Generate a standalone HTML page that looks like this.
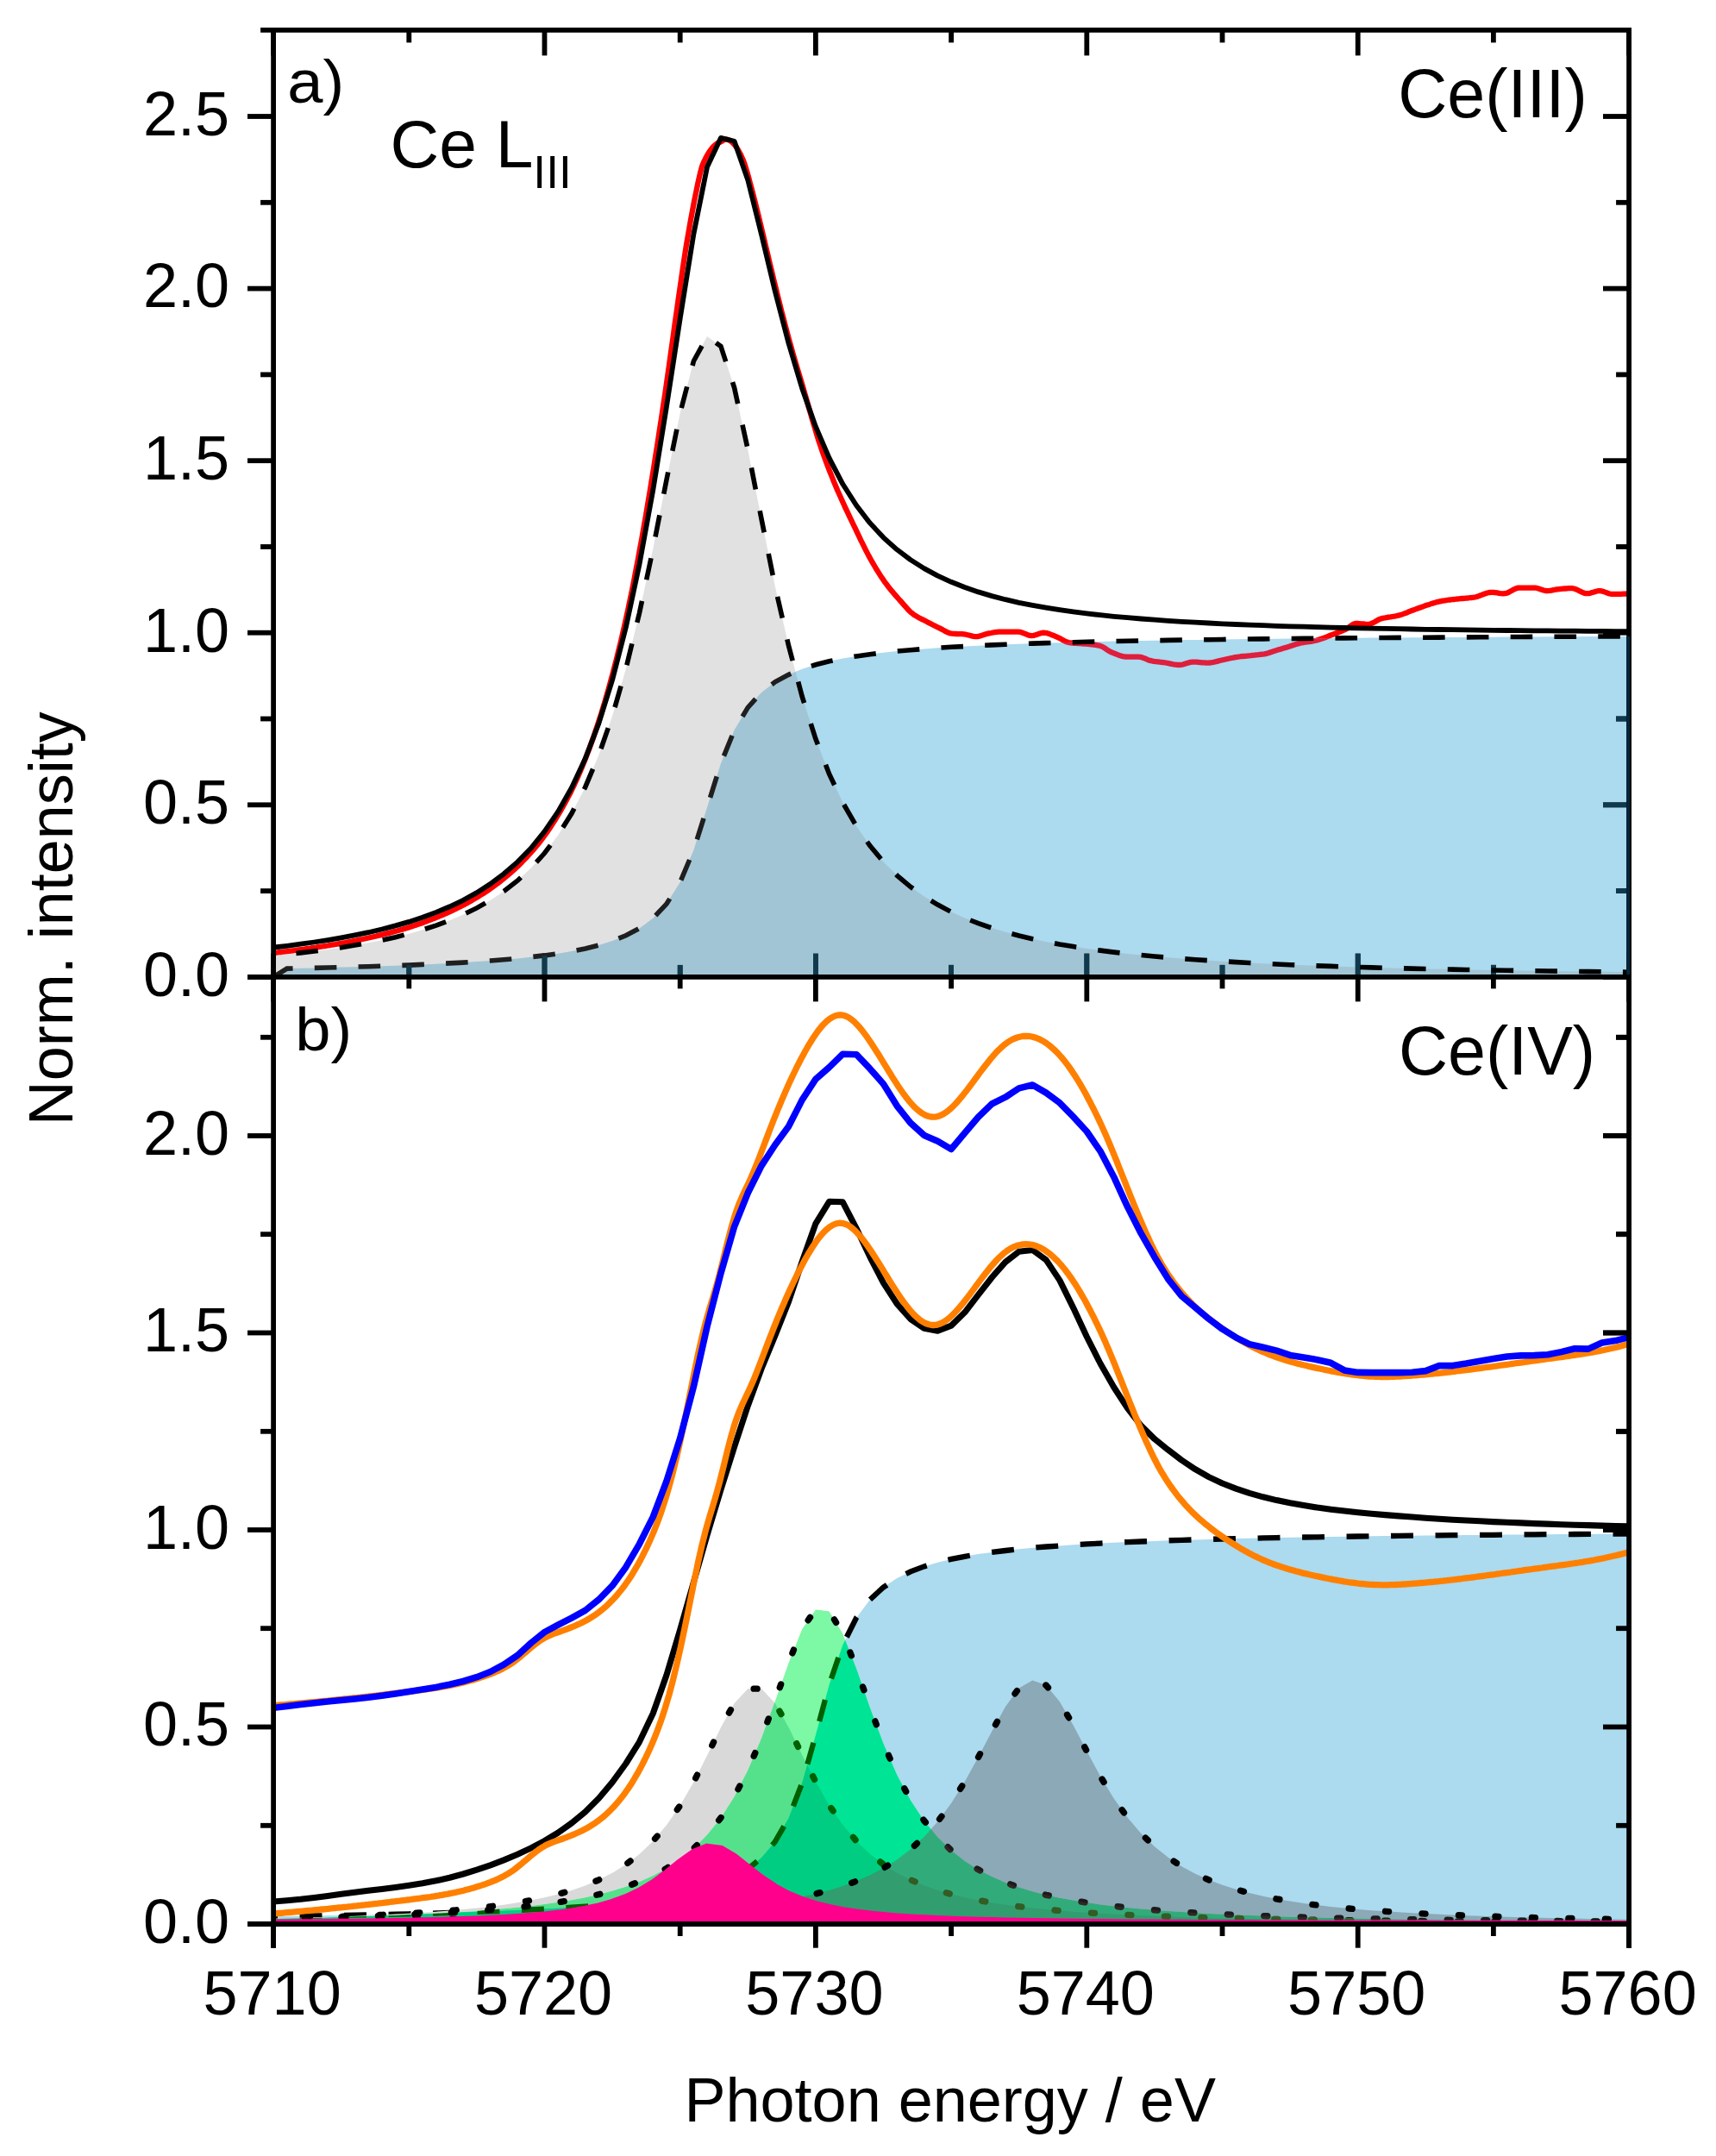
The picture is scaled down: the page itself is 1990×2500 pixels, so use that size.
<!DOCTYPE html>
<html lang="en"><head><meta charset="utf-8"><title>Ce L3 XANES</title>
<style>html,body{margin:0;padding:0;background:#fff}svg{display:block}</style></head>
<body>
<svg width="1990" height="2500" viewBox="0 0 1990 2500" font-family="'Liberation Sans', Arial, sans-serif" fill="#000">
<rect width="1990" height="2500" fill="#fff"/>
<defs>
<clipPath id="ca"><rect x="320.0" y="34.9" width="1570.1" height="1095.1"/></clipPath>
<clipPath id="cb"><rect x="320.0" y="1132.9" width="1570.1" height="1095.2"/></clipPath>
<clipPath id="cAa"><polygon points="317.1,1132.9 317.1,1132.9 332.8,1123.1 348.5,1122.7 364.3,1122.4 380.0,1122.0 395.7,1121.6 411.4,1121.2 427.1,1120.7 442.9,1120.2 458.6,1119.7 474.3,1119.1 490.0,1118.4 505.7,1117.7 521.5,1116.9 537.2,1116.1 552.9,1115.1 568.6,1114.0 584.3,1112.8 600.1,1111.4 615.8,1109.7 631.5,1107.9 647.2,1105.7 662.9,1103.0 678.7,1099.9 694.4,1096.0 710.1,1091.1 725.8,1084.8 741.5,1076.4 757.3,1064.8 773.0,1048.1 788.7,1023.0 804.4,985.7 820.1,936.0 835.9,885.5 851.6,846.6 867.3,820.4 883.0,803.0 898.7,790.9 914.5,782.3 930.2,775.8 945.9,770.8 961.6,766.8 977.3,763.6 993.1,760.9 1008.8,758.7 1024.5,756.8 1040.2,755.1 1055.9,753.7 1071.7,752.4 1087.4,751.3 1103.1,750.3 1118.8,749.5 1134.5,748.7 1150.3,747.9 1166.0,747.3 1181.7,746.7 1197.4,746.1 1213.1,745.6 1228.9,745.2 1244.6,744.7 1260.3,744.3 1276.0,743.9 1291.7,743.6 1307.5,743.3 1323.2,743.0 1338.9,742.7 1354.6,742.4 1370.3,742.1 1386.1,741.9 1401.8,741.7 1417.5,741.5 1433.2,741.2 1448.9,741.0 1464.7,740.9 1480.4,740.7 1496.1,740.5 1511.8,740.4 1527.5,740.2 1543.3,740.1 1559.0,739.9 1574.7,739.8 1590.4,739.6 1606.1,739.5 1621.9,739.4 1637.6,739.3 1653.3,739.2 1669.0,739.1 1684.7,739.0 1700.5,738.9 1716.2,738.8 1731.9,738.7 1747.6,738.6 1763.3,738.5 1779.1,738.4 1794.8,738.3 1810.5,738.3 1826.2,738.2 1841.9,738.1 1857.7,738.0 1873.4,738.0 1889.1,737.9 1889.1,1132.9"/></clipPath>
<clipPath id="cAb"><polygon points="317.1,2231.0 317.1,2222.2 332.8,2222.0 348.5,2221.8 364.3,2221.5 380.0,2221.2 395.7,2221.0 411.4,2220.7 427.1,2220.4 442.9,2220.0 458.6,2219.7 474.3,2219.3 490.0,2218.9 505.7,2218.5 521.5,2218.0 537.2,2217.5 552.9,2217.0 568.6,2216.4 584.3,2215.8 600.1,2215.1 615.8,2214.4 631.5,2213.6 647.2,2212.7 662.9,2211.7 678.7,2210.6 694.4,2209.3 710.1,2207.9 725.8,2206.3 741.5,2204.5 757.3,2202.3 773.0,2199.9 788.7,2196.9 804.4,2193.3 820.1,2189.0 835.9,2183.5 851.6,2176.4 867.3,2167.1 883.0,2154.3 898.7,2135.8 914.5,2108.4 930.2,2067.5 945.9,2012.0 961.6,1953.6 977.3,1907.4 993.1,1875.9 1008.8,1854.9 1024.5,1840.5 1040.2,1830.1 1055.9,1822.4 1071.7,1816.4 1087.4,1811.7 1103.1,1807.9 1118.8,1804.8 1134.5,1802.1 1150.3,1799.9 1166.0,1798.0 1181.7,1796.3 1197.4,1794.8 1213.1,1793.5 1228.9,1792.4 1244.6,1791.3 1260.3,1790.4 1276.0,1789.6 1291.7,1788.8 1307.5,1788.1 1323.2,1787.5 1338.9,1786.9 1354.6,1786.3 1370.3,1785.8 1386.1,1785.4 1401.8,1784.9 1417.5,1784.5 1433.2,1784.1 1448.9,1783.8 1464.7,1783.4 1480.4,1783.1 1496.1,1782.8 1511.8,1782.5 1527.5,1782.3 1543.3,1782.0 1559.0,1781.8 1574.7,1781.5 1590.4,1781.3 1606.1,1781.1 1621.9,1780.9 1637.6,1780.7 1653.3,1780.6 1669.0,1780.4 1684.7,1780.2 1700.5,1780.1 1716.2,1779.9 1731.9,1779.8 1747.6,1779.6 1763.3,1779.5 1779.1,1779.4 1794.8,1779.2 1810.5,1779.1 1826.2,1779.0 1841.9,1778.9 1857.7,1778.8 1873.4,1778.7 1889.1,1778.6 1889.1,2231.0"/></clipPath>
<clipPath id="cG1"><polygon points="317.1,2231.0 317.1,2224.6 332.8,2224.2 348.5,2223.8 364.3,2223.3 380.0,2222.9 395.7,2222.3 411.4,2221.8 427.1,2221.1 442.9,2220.4 458.6,2219.6 474.3,2218.8 490.0,2217.8 505.7,2216.7 521.5,2215.5 537.2,2214.1 552.9,2212.5 568.6,2210.7 584.3,2208.7 600.1,2206.3 615.8,2203.5 631.5,2200.2 647.2,2196.4 662.9,2191.9 678.7,2186.4 694.4,2179.8 710.1,2171.8 725.8,2162.0 741.5,2149.9 757.3,2134.9 773.0,2116.3 788.7,2093.6 804.4,2066.4 820.1,2035.4 835.9,2003.2 851.6,1975.1 867.3,1958.2 883.0,1958.1 898.7,1974.8 914.5,2002.8 930.2,2035.0 945.9,2066.0 961.6,2093.3 977.3,2116.1 993.1,2134.7 1008.8,2149.7 1024.5,2161.9 1040.2,2171.7 1055.9,2179.7 1071.7,2186.3 1087.4,2191.8 1103.1,2196.4 1118.8,2200.2 1134.5,2203.5 1150.3,2206.2 1166.0,2208.6 1181.7,2210.7 1197.4,2212.5 1213.1,2214.1 1228.9,2215.5 1244.6,2216.7 1260.3,2217.8 1276.0,2218.8 1291.7,2219.6 1307.5,2220.4 1323.2,2221.1 1338.9,2221.8 1354.6,2222.3 1370.3,2222.9 1386.1,2223.3 1401.8,2223.8 1417.5,2224.2 1433.2,2224.5 1448.9,2224.9 1464.7,2225.2 1480.4,2225.5 1496.1,2225.8 1511.8,2226.0 1527.5,2226.2 1543.3,2226.5 1559.0,2226.7 1574.7,2226.9 1590.4,2227.0 1606.1,2227.2 1621.9,2227.4 1637.6,2227.5 1653.3,2227.6 1669.0,2227.8 1684.7,2227.9 1700.5,2228.0 1716.2,2228.1 1731.9,2228.2 1747.6,2228.3 1763.3,2228.4 1779.1,2228.5 1794.8,2228.6 1810.5,2228.7 1826.2,2228.7 1841.9,2228.8 1857.7,2228.9 1873.4,2229.0 1889.1,2229.0 1889.1,2231.0"/></clipPath>
<clipPath id="cGr"><polygon points="317.1,2231.0 317.1,2224.9 332.8,2224.5 348.5,2224.2 364.3,2223.9 380.0,2223.5 395.7,2223.0 411.4,2222.6 427.1,2222.1 442.9,2221.5 458.6,2220.9 474.3,2220.3 490.0,2219.6 505.7,2218.8 521.5,2217.9 537.2,2216.9 552.9,2215.9 568.6,2214.6 584.3,2213.3 600.1,2211.8 615.8,2210.0 631.5,2208.1 647.2,2205.8 662.9,2203.2 678.7,2200.2 694.4,2196.7 710.1,2192.6 725.8,2187.7 741.5,2181.9 757.3,2174.9 773.0,2166.5 788.7,2156.2 804.4,2143.4 820.1,2127.6 835.9,2107.9 851.6,2083.2 867.3,2052.6 883.0,2015.5 898.7,1972.7 914.5,1927.9 930.2,1888.8 945.9,1866.2 961.6,1868.2 977.3,1894.0 993.1,1934.6 1008.8,1979.5 1024.5,2021.6 1040.2,2057.7 1055.9,2087.3 1071.7,2111.2 1087.4,2130.3 1103.1,2145.6 1118.8,2157.9 1134.5,2167.9 1150.3,2176.1 1166.0,2182.9 1181.7,2188.5 1197.4,2193.2 1213.1,2197.3 1228.9,2200.7 1244.6,2203.6 1260.3,2206.2 1276.0,2208.4 1291.7,2210.3 1307.5,2212.0 1323.2,2213.5 1338.9,2214.8 1354.6,2216.0 1370.3,2217.1 1386.1,2218.0 1401.8,2218.9 1417.5,2219.7 1433.2,2220.4 1448.9,2221.0 1464.7,2221.6 1480.4,2222.2 1496.1,2222.7 1511.8,2223.1 1527.5,2223.5 1543.3,2223.9 1559.0,2224.3 1574.7,2224.6 1590.4,2224.9 1606.1,2225.2 1621.9,2225.5 1637.6,2225.7 1653.3,2225.9 1669.0,2226.1 1684.7,2226.4 1700.5,2226.5 1716.2,2226.7 1731.9,2226.9 1747.6,2227.1 1763.3,2227.2 1779.1,2227.3 1794.8,2227.5 1810.5,2227.6 1826.2,2227.7 1841.9,2227.8 1857.7,2227.9 1873.4,2228.0 1889.1,2228.1 1889.1,2231.0"/></clipPath>
</defs>
<g clip-path="url(#ca)">
<polyline points="317.1,1105.0 319.3,1104.8 321.6,1104.5 323.8,1104.2 326.1,1104.0 328.3,1103.7 330.6,1103.4 332.8,1103.2 335.1,1102.9 337.3,1102.6 339.6,1102.3 341.8,1102.0 344.1,1101.7 346.3,1101.4 348.6,1101.1 350.8,1100.8 353.1,1100.5 355.3,1100.2 357.6,1099.9 359.8,1099.6 362.1,1099.2 364.3,1098.9 366.6,1098.6 368.8,1098.2 371.1,1097.9 373.3,1097.5 375.6,1097.2 377.8,1096.8 380.1,1096.5 382.3,1096.1 384.6,1095.7 386.8,1095.3 389.1,1095.0 391.3,1094.6 393.6,1094.2 395.8,1093.8 398.1,1093.4 400.3,1093.0 402.6,1092.5 404.8,1092.1 407.1,1091.7 409.3,1091.2 411.6,1090.8 413.8,1090.4 416.1,1089.9 418.3,1089.4 420.6,1089.0 422.8,1088.5 425.0,1088.0 427.3,1087.5 429.5,1087.0 431.8,1086.5 434.0,1086.0 436.3,1085.5 438.5,1084.9 440.8,1084.4 443.0,1083.9 445.3,1083.3 447.5,1082.7 449.8,1082.2 452.0,1081.6 454.3,1081.0 456.5,1080.4 458.8,1079.8 461.0,1079.2 463.3,1078.5 465.5,1077.9 467.8,1077.2 470.0,1076.6 472.3,1075.9 474.5,1075.2 476.8,1074.5 479.0,1073.7 481.3,1073.0 483.5,1072.2 485.8,1071.5 488.0,1070.7 490.3,1069.9 492.5,1069.1 494.8,1068.2 497.0,1067.4 499.3,1066.6 501.5,1065.7 503.8,1064.8 506.0,1063.9 508.3,1063.0 510.5,1062.0 512.8,1061.1 515.0,1060.1 517.3,1059.1 519.5,1058.1 521.8,1057.1 524.0,1056.1 526.3,1055.0 528.5,1053.9 530.7,1052.8 533.0,1051.7 535.2,1050.5 537.5,1049.4 539.7,1048.2 542.0,1046.9 544.2,1045.7 546.5,1044.4 548.7,1043.1 551.0,1041.8 553.2,1040.5 555.5,1039.1 557.7,1037.7 560.0,1036.3 562.2,1034.8 564.5,1033.3 566.7,1031.8 569.0,1030.2 571.2,1028.6 573.5,1027.0 575.7,1025.3 578.0,1023.6 580.2,1021.9 582.5,1020.1 584.7,1018.3 587.0,1016.4 589.2,1014.5 591.5,1012.6 593.7,1010.6 596.0,1008.6 598.2,1006.5 600.5,1004.4 602.7,1002.2 605.0,999.9 607.2,997.6 609.5,995.3 611.7,992.9 614.0,990.4 616.2,987.9 618.5,985.3 620.7,982.7 623.0,980.0 625.2,977.2 627.5,974.3 629.7,971.4 631.9,968.4 634.2,965.2 636.4,961.9 638.7,958.5 640.9,955.1 643.2,951.6 645.4,947.9 647.7,944.2 649.9,940.4 652.2,936.5 654.4,932.5 656.7,928.3 658.9,924.1 661.2,919.8 663.4,915.2 665.7,910.5 667.9,905.6 670.2,900.6 672.4,895.4 674.7,890.1 676.9,884.6 679.2,879.0 681.4,873.2 683.7,867.3 685.9,861.1 688.2,854.8 690.4,848.3 692.7,841.6 694.9,834.7 697.2,827.7 699.4,820.4 701.7,812.8 703.9,805.1 706.2,797.2 708.4,789.0 710.7,780.6 712.9,772.0 715.2,763.3 717.4,754.2 719.7,744.9 721.9,735.4 724.2,725.5 726.4,715.4 728.7,705.0 730.9,694.3 733.2,683.3 735.4,672.0 737.6,660.4 739.9,648.6 742.1,636.4 744.4,624.0 746.6,611.3 748.9,598.3 751.1,585.1 753.4,571.5 755.6,557.8 757.9,543.8 760.1,529.6 762.4,515.2 764.6,500.5 766.9,485.7 769.1,470.8 771.4,455.8 773.6,440.3 775.9,424.2 778.1,408.1 780.4,391.9 782.6,375.8 784.9,359.8 787.1,343.9 789.4,328.1 791.6,312.6 793.9,297.3 796.1,283.2 798.4,270.0 800.6,257.2 802.9,244.9 805.1,233.0 807.4,221.8 809.6,211.1 811.9,201.1 814.1,192.8 816.4,187.3 818.6,182.8 820.9,178.7 823.1,175.2 825.4,172.2 827.6,169.7 829.9,167.7 832.1,165.9 834.4,165.1 836.6,164.0 838.9,162.5 841.1,161.7 843.3,161.7 845.6,162.5 847.8,163.8 850.1,165.9 852.3,168.5 854.6,171.7 856.8,175.4 859.1,179.6 861.3,184.5 863.6,190.5 865.8,197.7 868.1,205.5 870.3,213.7 872.6,222.2 874.8,231.0 877.1,240.0 879.3,249.1 881.6,258.4 883.8,267.8 886.1,277.3 888.3,286.7 890.6,296.2 892.8,305.7 895.1,315.1 897.3,324.4 899.6,333.6 901.8,342.8 904.1,351.8 906.3,360.7 908.6,369.4 910.8,378.0 913.1,386.5 915.3,394.7 917.6,402.8 919.8,410.8 922.1,418.6 924.3,426.2 926.6,433.6 928.8,441.0 931.1,448.7 933.3,456.4 935.6,464.2 937.8,472.1 940.1,479.9 942.3,487.6 944.6,495.1 946.8,502.5 949.0,509.7 951.3,516.5 953.5,523.1 955.8,529.4 958.0,535.5 960.3,541.5 962.5,547.3 964.8,552.9 967.0,558.5 969.3,563.9 971.5,569.2 973.8,574.3 976.0,579.3 978.3,584.3 980.5,589.1 982.8,593.9 985.0,598.6 987.3,603.3 989.5,608.0 991.8,612.7 994.0,617.4 996.3,622.1 998.5,626.8 1000.8,631.4 1003.0,635.9 1005.3,640.4 1007.5,644.6 1009.8,648.7 1012.0,652.6 1014.3,656.5 1016.5,660.3 1018.8,663.9 1021.0,667.4 1023.3,670.8 1025.5,674.1 1027.8,677.2 1030.0,680.1 1032.3,683.0 1034.5,685.7 1036.8,688.3 1039.0,690.9 1041.3,693.5 1043.5,696.0 1045.8,698.5 1048.0,701.1 1050.3,703.7 1052.5,706.2 1054.7,708.5 1057.0,710.6 1059.2,712.3 1061.5,713.8 1063.7,715.1 1066.0,716.4 1068.2,717.6 1070.5,718.7 1072.7,719.8 1075.0,721.0 1077.2,722.2 1079.5,723.3 1081.7,724.5 1084.0,725.6 1086.2,726.7 1088.5,727.8 1090.7,728.9 1093.0,730.1 1095.2,731.4 1097.5,732.6 1099.7,733.6 1102.0,734.4 1104.2,734.7 1106.5,734.9 1108.7,735.0 1111.0,735.1 1113.2,735.1 1115.5,735.2 1117.7,735.4 1120.0,735.7 1122.2,736.2 1124.5,736.8 1126.7,737.4 1129.0,737.9 1131.2,738.2 1133.5,738.1 1135.7,737.7 1138.0,737.0 1140.2,736.3 1142.5,735.5 1144.7,734.9 1147.0,734.4 1149.2,734.0 1151.5,733.5 1153.7,733.1 1155.9,732.8 1158.2,732.6 1160.4,732.6 1162.7,732.6 1164.9,732.6 1167.2,732.6 1169.4,732.6 1171.7,732.6 1173.9,732.6 1176.2,732.6 1178.4,732.6 1180.7,732.6 1182.9,732.8 1185.2,733.5 1187.4,734.4 1189.7,735.3 1191.9,736.2 1194.2,736.9 1196.4,737.1 1198.7,736.9 1200.9,736.3 1203.2,735.5 1205.4,734.7 1207.7,734.0 1209.9,733.6 1212.2,733.8 1214.4,734.2 1216.7,734.9 1218.9,735.8 1221.2,736.7 1223.4,737.7 1225.7,738.7 1227.9,739.6 1230.2,740.8 1232.4,742.1 1234.7,743.3 1236.9,744.3 1239.2,745.0 1241.4,745.3 1243.7,745.6 1245.9,745.8 1248.2,745.9 1250.4,746.1 1252.7,746.2 1254.9,746.3 1257.2,746.5 1259.4,746.7 1261.6,746.9 1263.9,747.1 1266.1,747.4 1268.4,747.6 1270.6,747.9 1272.9,748.3 1275.1,748.7 1277.4,749.4 1279.6,750.6 1281.9,752.0 1284.1,753.6 1286.4,755.0 1288.6,756.2 1290.9,757.1 1293.1,758.0 1295.4,758.9 1297.6,759.8 1299.9,760.5 1302.1,761.1 1304.4,761.5 1306.6,761.6 1308.9,761.6 1311.1,761.6 1313.4,761.6 1315.6,761.6 1317.9,761.6 1320.1,761.6 1322.4,761.8 1324.6,762.4 1326.9,763.2 1329.1,764.2 1331.4,765.2 1333.6,765.9 1335.9,766.4 1338.1,766.8 1340.4,767.1 1342.6,767.4 1344.9,767.7 1347.1,768.0 1349.4,768.2 1351.6,768.5 1353.9,768.9 1356.1,769.3 1358.4,769.8 1360.6,770.3 1362.9,770.6 1365.1,770.9 1367.3,771.0 1369.6,770.9 1371.8,770.5 1374.1,769.8 1376.3,769.1 1378.6,768.4 1380.8,767.8 1383.1,767.6 1385.3,767.6 1387.6,767.7 1389.8,767.9 1392.1,768.1 1394.3,768.3 1396.6,768.4 1398.8,768.6 1401.1,768.6 1403.3,768.5 1405.6,768.2 1407.8,767.7 1410.1,767.2 1412.3,766.6 1414.6,766.0 1416.8,765.5 1419.1,765.0 1421.3,764.5 1423.6,764.0 1425.8,763.5 1428.1,763.0 1430.3,762.6 1432.6,762.1 1434.8,761.8 1437.1,761.5 1439.3,761.2 1441.6,761.0 1443.8,760.8 1446.1,760.6 1448.3,760.4 1450.6,760.2 1452.8,759.9 1455.1,759.7 1457.3,759.4 1459.6,759.2 1461.8,758.9 1464.1,758.6 1466.3,758.3 1468.6,757.9 1470.8,757.3 1473.0,756.5 1475.3,755.7 1477.5,754.9 1479.8,754.2 1482.0,753.5 1484.3,752.9 1486.5,752.2 1488.8,751.5 1491.0,750.9 1493.3,750.2 1495.5,749.5 1497.8,748.8 1500.0,748.0 1502.3,747.3 1504.5,746.6 1506.8,746.0 1509.0,745.5 1511.3,745.1 1513.5,744.7 1515.8,744.4 1518.0,744.1 1520.3,743.8 1522.5,743.4 1524.8,743.0 1527.0,742.5 1529.3,741.8 1531.5,741.1 1533.8,740.3 1536.0,739.5 1538.3,738.6 1540.5,737.7 1542.8,736.8 1545.0,735.9 1547.3,735.1 1549.5,734.2 1551.8,733.4 1554.0,732.5 1556.3,731.6 1558.5,730.7 1560.8,729.6 1563.0,728.3 1565.3,726.6 1567.5,724.9 1569.8,723.6 1572.0,723.0 1574.3,723.0 1576.5,723.1 1578.7,723.3 1581.0,723.5 1583.2,723.7 1585.5,723.8 1587.7,723.8 1590.0,723.2 1592.2,722.2 1594.5,721.0 1596.7,719.6 1599.0,718.4 1601.2,717.5 1603.5,716.9 1605.7,716.5 1608.0,716.1 1610.2,715.7 1612.5,715.4 1614.7,715.0 1617.0,714.7 1619.2,714.2 1621.5,713.7 1623.7,713.1 1626.0,712.4 1628.2,711.6 1630.5,710.8 1632.7,709.8 1635.0,708.9 1637.2,708.0 1639.5,707.2 1641.7,706.4 1644.0,705.5 1646.2,704.7 1648.5,703.9 1650.7,703.1 1653.0,702.3 1655.2,701.6 1657.5,700.9 1659.7,700.1 1662.0,699.4 1664.2,698.8 1666.5,698.1 1668.7,697.6 1671.0,697.1 1673.2,696.7 1675.5,696.4 1677.7,696.0 1679.9,695.7 1682.2,695.5 1684.4,695.2 1686.7,695.0 1688.9,694.7 1691.2,694.5 1693.4,694.2 1695.7,694.0 1697.9,693.9 1700.2,693.7 1702.4,693.5 1704.7,693.2 1706.9,693.0 1709.2,692.7 1711.4,692.2 1713.7,691.6 1715.9,690.8 1718.2,689.9 1720.4,689.0 1722.7,688.2 1724.9,687.5 1727.2,687.0 1729.4,686.8 1731.7,686.9 1733.9,687.1 1736.2,687.4 1738.4,687.8 1740.7,688.1 1742.9,688.3 1745.2,688.2 1747.4,687.7 1749.7,686.8 1751.9,685.6 1754.2,684.3 1756.4,683.1 1758.7,682.1 1760.9,681.6 1763.2,681.6 1765.4,681.6 1767.7,681.6 1769.9,681.6 1772.2,681.6 1774.4,681.6 1776.7,681.6 1778.9,681.6 1781.2,681.7 1783.4,682.3 1785.6,683.0 1787.9,683.8 1790.1,684.5 1792.4,685.0 1794.6,685.1 1796.9,684.9 1799.1,684.6 1801.4,684.2 1803.6,683.7 1805.9,683.3 1808.1,683.1 1810.4,682.9 1812.6,682.7 1814.9,682.5 1817.1,682.4 1819.4,682.2 1821.6,682.2 1823.9,682.2 1826.1,682.7 1828.4,683.6 1830.6,684.7 1832.9,685.8 1835.1,686.9 1837.4,687.8 1839.6,688.2 1841.9,688.2 1844.1,687.8 1846.4,687.1 1848.6,686.4 1850.9,685.7 1853.1,685.2 1855.4,685.1 1857.6,685.4 1859.9,686.1 1862.1,686.9 1864.4,687.8 1866.6,688.5 1868.9,688.8 1871.1,688.9 1873.4,688.9 1875.6,688.9 1877.9,688.8 1880.1,688.8 1882.4,688.7 1884.6,688.6 1886.9,688.5 1889.1,688.4" fill="none" stroke="#ff0000" stroke-width="6.3" stroke-linejoin="round"/>
<polygon points="317.1,1135.9 317.1,1132.9 332.8,1123.1 348.5,1122.7 364.3,1122.4 380.0,1122.0 395.7,1121.6 411.4,1121.2 427.1,1120.7 442.9,1120.2 458.6,1119.7 474.3,1119.1 490.0,1118.4 505.7,1117.7 521.5,1116.9 537.2,1116.1 552.9,1115.1 568.6,1114.0 584.3,1112.8 600.1,1111.4 615.8,1109.7 631.5,1107.9 647.2,1105.7 662.9,1103.0 678.7,1099.9 694.4,1096.0 710.1,1091.1 725.8,1084.8 741.5,1076.4 757.3,1064.8 773.0,1048.1 788.7,1023.0 804.4,985.7 820.1,936.0 835.9,885.5 851.6,846.6 867.3,820.4 883.0,803.0 898.7,790.9 914.5,782.3 930.2,775.8 945.9,770.8 961.6,766.8 977.3,763.6 993.1,760.9 1008.8,758.7 1024.5,756.8 1040.2,755.1 1055.9,753.7 1071.7,752.4 1087.4,751.3 1103.1,750.3 1118.8,749.5 1134.5,748.7 1150.3,747.9 1166.0,747.3 1181.7,746.7 1197.4,746.1 1213.1,745.6 1228.9,745.2 1244.6,744.7 1260.3,744.3 1276.0,743.9 1291.7,743.6 1307.5,743.3 1323.2,743.0 1338.9,742.7 1354.6,742.4 1370.3,742.1 1386.1,741.9 1401.8,741.7 1417.5,741.5 1433.2,741.2 1448.9,741.0 1464.7,740.9 1480.4,740.7 1496.1,740.5 1511.8,740.4 1527.5,740.2 1543.3,740.1 1559.0,739.9 1574.7,739.8 1590.4,739.6 1606.1,739.5 1621.9,739.4 1637.6,739.3 1653.3,739.2 1669.0,739.1 1684.7,739.0 1700.5,738.9 1716.2,738.8 1731.9,738.7 1747.6,738.6 1763.3,738.5 1779.1,738.4 1794.8,738.3 1810.5,738.3 1826.2,738.2 1841.9,738.1 1857.7,738.0 1873.4,738.0 1889.1,737.9 1889.1,1135.9" fill="#acdaef"/>
<g clip-path="url(#cAa)"><polyline points="317.1,1105.0 319.3,1104.8 321.6,1104.5 323.8,1104.2 326.1,1104.0 328.3,1103.7 330.6,1103.4 332.8,1103.2 335.1,1102.9 337.3,1102.6 339.6,1102.3 341.8,1102.0 344.1,1101.7 346.3,1101.4 348.6,1101.1 350.8,1100.8 353.1,1100.5 355.3,1100.2 357.6,1099.9 359.8,1099.6 362.1,1099.2 364.3,1098.9 366.6,1098.6 368.8,1098.2 371.1,1097.9 373.3,1097.5 375.6,1097.2 377.8,1096.8 380.1,1096.5 382.3,1096.1 384.6,1095.7 386.8,1095.3 389.1,1095.0 391.3,1094.6 393.6,1094.2 395.8,1093.8 398.1,1093.4 400.3,1093.0 402.6,1092.5 404.8,1092.1 407.1,1091.7 409.3,1091.2 411.6,1090.8 413.8,1090.4 416.1,1089.9 418.3,1089.4 420.6,1089.0 422.8,1088.5 425.0,1088.0 427.3,1087.5 429.5,1087.0 431.8,1086.5 434.0,1086.0 436.3,1085.5 438.5,1084.9 440.8,1084.4 443.0,1083.9 445.3,1083.3 447.5,1082.7 449.8,1082.2 452.0,1081.6 454.3,1081.0 456.5,1080.4 458.8,1079.8 461.0,1079.2 463.3,1078.5 465.5,1077.9 467.8,1077.2 470.0,1076.6 472.3,1075.9 474.5,1075.2 476.8,1074.5 479.0,1073.7 481.3,1073.0 483.5,1072.2 485.8,1071.5 488.0,1070.7 490.3,1069.9 492.5,1069.1 494.8,1068.2 497.0,1067.4 499.3,1066.6 501.5,1065.7 503.8,1064.8 506.0,1063.9 508.3,1063.0 510.5,1062.0 512.8,1061.1 515.0,1060.1 517.3,1059.1 519.5,1058.1 521.8,1057.1 524.0,1056.1 526.3,1055.0 528.5,1053.9 530.7,1052.8 533.0,1051.7 535.2,1050.5 537.5,1049.4 539.7,1048.2 542.0,1046.9 544.2,1045.7 546.5,1044.4 548.7,1043.1 551.0,1041.8 553.2,1040.5 555.5,1039.1 557.7,1037.7 560.0,1036.3 562.2,1034.8 564.5,1033.3 566.7,1031.8 569.0,1030.2 571.2,1028.6 573.5,1027.0 575.7,1025.3 578.0,1023.6 580.2,1021.9 582.5,1020.1 584.7,1018.3 587.0,1016.4 589.2,1014.5 591.5,1012.6 593.7,1010.6 596.0,1008.6 598.2,1006.5 600.5,1004.4 602.7,1002.2 605.0,999.9 607.2,997.6 609.5,995.3 611.7,992.9 614.0,990.4 616.2,987.9 618.5,985.3 620.7,982.7 623.0,980.0 625.2,977.2 627.5,974.3 629.7,971.4 631.9,968.4 634.2,965.2 636.4,961.9 638.7,958.5 640.9,955.1 643.2,951.6 645.4,947.9 647.7,944.2 649.9,940.4 652.2,936.5 654.4,932.5 656.7,928.3 658.9,924.1 661.2,919.8 663.4,915.2 665.7,910.5 667.9,905.6 670.2,900.6 672.4,895.4 674.7,890.1 676.9,884.6 679.2,879.0 681.4,873.2 683.7,867.3 685.9,861.1 688.2,854.8 690.4,848.3 692.7,841.6 694.9,834.7 697.2,827.7 699.4,820.4 701.7,812.8 703.9,805.1 706.2,797.2 708.4,789.0 710.7,780.6 712.9,772.0 715.2,763.3 717.4,754.2 719.7,744.9 721.9,735.4 724.2,725.5 726.4,715.4 728.7,705.0 730.9,694.3 733.2,683.3 735.4,672.0 737.6,660.4 739.9,648.6 742.1,636.4 744.4,624.0 746.6,611.3 748.9,598.3 751.1,585.1 753.4,571.5 755.6,557.8 757.9,543.8 760.1,529.6 762.4,515.2 764.6,500.5 766.9,485.7 769.1,470.8 771.4,455.8 773.6,440.3 775.9,424.2 778.1,408.1 780.4,391.9 782.6,375.8 784.9,359.8 787.1,343.9 789.4,328.1 791.6,312.6 793.9,297.3 796.1,283.2 798.4,270.0 800.6,257.2 802.9,244.9 805.1,233.0 807.4,221.8 809.6,211.1 811.9,201.1 814.1,192.8 816.4,187.3 818.6,182.8 820.9,178.7 823.1,175.2 825.4,172.2 827.6,169.7 829.9,167.7 832.1,165.9 834.4,165.1 836.6,164.0 838.9,162.5 841.1,161.7 843.3,161.7 845.6,162.5 847.8,163.8 850.1,165.9 852.3,168.5 854.6,171.7 856.8,175.4 859.1,179.6 861.3,184.5 863.6,190.5 865.8,197.7 868.1,205.5 870.3,213.7 872.6,222.2 874.8,231.0 877.1,240.0 879.3,249.1 881.6,258.4 883.8,267.8 886.1,277.3 888.3,286.7 890.6,296.2 892.8,305.7 895.1,315.1 897.3,324.4 899.6,333.6 901.8,342.8 904.1,351.8 906.3,360.7 908.6,369.4 910.8,378.0 913.1,386.5 915.3,394.7 917.6,402.8 919.8,410.8 922.1,418.6 924.3,426.2 926.6,433.6 928.8,441.0 931.1,448.7 933.3,456.4 935.6,464.2 937.8,472.1 940.1,479.9 942.3,487.6 944.6,495.1 946.8,502.5 949.0,509.7 951.3,516.5 953.5,523.1 955.8,529.4 958.0,535.5 960.3,541.5 962.5,547.3 964.8,552.9 967.0,558.5 969.3,563.9 971.5,569.2 973.8,574.3 976.0,579.3 978.3,584.3 980.5,589.1 982.8,593.9 985.0,598.6 987.3,603.3 989.5,608.0 991.8,612.7 994.0,617.4 996.3,622.1 998.5,626.8 1000.8,631.4 1003.0,635.9 1005.3,640.4 1007.5,644.6 1009.8,648.7 1012.0,652.6 1014.3,656.5 1016.5,660.3 1018.8,663.9 1021.0,667.4 1023.3,670.8 1025.5,674.1 1027.8,677.2 1030.0,680.1 1032.3,683.0 1034.5,685.7 1036.8,688.3 1039.0,690.9 1041.3,693.5 1043.5,696.0 1045.8,698.5 1048.0,701.1 1050.3,703.7 1052.5,706.2 1054.7,708.5 1057.0,710.6 1059.2,712.3 1061.5,713.8 1063.7,715.1 1066.0,716.4 1068.2,717.6 1070.5,718.7 1072.7,719.8 1075.0,721.0 1077.2,722.2 1079.5,723.3 1081.7,724.5 1084.0,725.6 1086.2,726.7 1088.5,727.8 1090.7,728.9 1093.0,730.1 1095.2,731.4 1097.5,732.6 1099.7,733.6 1102.0,734.4 1104.2,734.7 1106.5,734.9 1108.7,735.0 1111.0,735.1 1113.2,735.1 1115.5,735.2 1117.7,735.4 1120.0,735.7 1122.2,736.2 1124.5,736.8 1126.7,737.4 1129.0,737.9 1131.2,738.2 1133.5,738.1 1135.7,737.7 1138.0,737.0 1140.2,736.3 1142.5,735.5 1144.7,734.9 1147.0,734.4 1149.2,734.0 1151.5,733.5 1153.7,733.1 1155.9,732.8 1158.2,732.6 1160.4,732.6 1162.7,732.6 1164.9,732.6 1167.2,732.6 1169.4,732.6 1171.7,732.6 1173.9,732.6 1176.2,732.6 1178.4,732.6 1180.7,732.6 1182.9,732.8 1185.2,733.5 1187.4,734.4 1189.7,735.3 1191.9,736.2 1194.2,736.9 1196.4,737.1 1198.7,736.9 1200.9,736.3 1203.2,735.5 1205.4,734.7 1207.7,734.0 1209.9,733.6 1212.2,733.8 1214.4,734.2 1216.7,734.9 1218.9,735.8 1221.2,736.7 1223.4,737.7 1225.7,738.7 1227.9,739.6 1230.2,740.8 1232.4,742.1 1234.7,743.3 1236.9,744.3 1239.2,745.0 1241.4,745.3 1243.7,745.6 1245.9,745.8 1248.2,745.9 1250.4,746.1 1252.7,746.2 1254.9,746.3 1257.2,746.5 1259.4,746.7 1261.6,746.9 1263.9,747.1 1266.1,747.4 1268.4,747.6 1270.6,747.9 1272.9,748.3 1275.1,748.7 1277.4,749.4 1279.6,750.6 1281.9,752.0 1284.1,753.6 1286.4,755.0 1288.6,756.2 1290.9,757.1 1293.1,758.0 1295.4,758.9 1297.6,759.8 1299.9,760.5 1302.1,761.1 1304.4,761.5 1306.6,761.6 1308.9,761.6 1311.1,761.6 1313.4,761.6 1315.6,761.6 1317.9,761.6 1320.1,761.6 1322.4,761.8 1324.6,762.4 1326.9,763.2 1329.1,764.2 1331.4,765.2 1333.6,765.9 1335.9,766.4 1338.1,766.8 1340.4,767.1 1342.6,767.4 1344.9,767.7 1347.1,768.0 1349.4,768.2 1351.6,768.5 1353.9,768.9 1356.1,769.3 1358.4,769.8 1360.6,770.3 1362.9,770.6 1365.1,770.9 1367.3,771.0 1369.6,770.9 1371.8,770.5 1374.1,769.8 1376.3,769.1 1378.6,768.4 1380.8,767.8 1383.1,767.6 1385.3,767.6 1387.6,767.7 1389.8,767.9 1392.1,768.1 1394.3,768.3 1396.6,768.4 1398.8,768.6 1401.1,768.6 1403.3,768.5 1405.6,768.2 1407.8,767.7 1410.1,767.2 1412.3,766.6 1414.6,766.0 1416.8,765.5 1419.1,765.0 1421.3,764.5 1423.6,764.0 1425.8,763.5 1428.1,763.0 1430.3,762.6 1432.6,762.1 1434.8,761.8 1437.1,761.5 1439.3,761.2 1441.6,761.0 1443.8,760.8 1446.1,760.6 1448.3,760.4 1450.6,760.2 1452.8,759.9 1455.1,759.7 1457.3,759.4 1459.6,759.2 1461.8,758.9 1464.1,758.6 1466.3,758.3 1468.6,757.9 1470.8,757.3 1473.0,756.5 1475.3,755.7 1477.5,754.9 1479.8,754.2 1482.0,753.5 1484.3,752.9 1486.5,752.2 1488.8,751.5 1491.0,750.9 1493.3,750.2 1495.5,749.5 1497.8,748.8 1500.0,748.0 1502.3,747.3 1504.5,746.6 1506.8,746.0 1509.0,745.5 1511.3,745.1 1513.5,744.7 1515.8,744.4 1518.0,744.1 1520.3,743.8 1522.5,743.4 1524.8,743.0 1527.0,742.5 1529.3,741.8 1531.5,741.1 1533.8,740.3 1536.0,739.5 1538.3,738.6 1540.5,737.7 1542.8,736.8 1545.0,735.9 1547.3,735.1 1549.5,734.2 1551.8,733.4 1554.0,732.5 1556.3,731.6 1558.5,730.7 1560.8,729.6 1563.0,728.3 1565.3,726.6 1567.5,724.9 1569.8,723.6 1572.0,723.0 1574.3,723.0 1576.5,723.1 1578.7,723.3 1581.0,723.5 1583.2,723.7 1585.5,723.8 1587.7,723.8 1590.0,723.2 1592.2,722.2 1594.5,721.0 1596.7,719.6 1599.0,718.4 1601.2,717.5 1603.5,716.9 1605.7,716.5 1608.0,716.1 1610.2,715.7 1612.5,715.4 1614.7,715.0 1617.0,714.7 1619.2,714.2 1621.5,713.7 1623.7,713.1 1626.0,712.4 1628.2,711.6 1630.5,710.8 1632.7,709.8 1635.0,708.9 1637.2,708.0 1639.5,707.2 1641.7,706.4 1644.0,705.5 1646.2,704.7 1648.5,703.9 1650.7,703.1 1653.0,702.3 1655.2,701.6 1657.5,700.9 1659.7,700.1 1662.0,699.4 1664.2,698.8 1666.5,698.1 1668.7,697.6 1671.0,697.1 1673.2,696.7 1675.5,696.4 1677.7,696.0 1679.9,695.7 1682.2,695.5 1684.4,695.2 1686.7,695.0 1688.9,694.7 1691.2,694.5 1693.4,694.2 1695.7,694.0 1697.9,693.9 1700.2,693.7 1702.4,693.5 1704.7,693.2 1706.9,693.0 1709.2,692.7 1711.4,692.2 1713.7,691.6 1715.9,690.8 1718.2,689.9 1720.4,689.0 1722.7,688.2 1724.9,687.5 1727.2,687.0 1729.4,686.8 1731.7,686.9 1733.9,687.1 1736.2,687.4 1738.4,687.8 1740.7,688.1 1742.9,688.3 1745.2,688.2 1747.4,687.7 1749.7,686.8 1751.9,685.6 1754.2,684.3 1756.4,683.1 1758.7,682.1 1760.9,681.6 1763.2,681.6 1765.4,681.6 1767.7,681.6 1769.9,681.6 1772.2,681.6 1774.4,681.6 1776.7,681.6 1778.9,681.6 1781.2,681.7 1783.4,682.3 1785.6,683.0 1787.9,683.8 1790.1,684.5 1792.4,685.0 1794.6,685.1 1796.9,684.9 1799.1,684.6 1801.4,684.2 1803.6,683.7 1805.9,683.3 1808.1,683.1 1810.4,682.9 1812.6,682.7 1814.9,682.5 1817.1,682.4 1819.4,682.2 1821.6,682.2 1823.9,682.2 1826.1,682.7 1828.4,683.6 1830.6,684.7 1832.9,685.8 1835.1,686.9 1837.4,687.8 1839.6,688.2 1841.9,688.2 1844.1,687.8 1846.4,687.1 1848.6,686.4 1850.9,685.7 1853.1,685.2 1855.4,685.1 1857.6,685.4 1859.9,686.1 1862.1,686.9 1864.4,687.8 1866.6,688.5 1868.9,688.8 1871.1,688.9 1873.4,688.9 1875.6,688.9 1877.9,688.8 1880.1,688.8 1882.4,688.7 1884.6,688.6 1886.9,688.5 1889.1,688.4" fill="none" stroke="#de1f3d" stroke-width="6.3" stroke-linejoin="round"/></g>
<polyline points="317.1,1132.9 332.8,1123.1 348.5,1122.7 364.3,1122.4 380.0,1122.0 395.7,1121.6 411.4,1121.2 427.1,1120.7 442.9,1120.2 458.6,1119.7 474.3,1119.1 490.0,1118.4 505.7,1117.7 521.5,1116.9 537.2,1116.1 552.9,1115.1 568.6,1114.0 584.3,1112.8 600.1,1111.4 615.8,1109.7 631.5,1107.9 647.2,1105.7 662.9,1103.0 678.7,1099.9 694.4,1096.0 710.1,1091.1 725.8,1084.8 741.5,1076.4 757.3,1064.8 773.0,1048.1 788.7,1023.0 804.4,985.7 820.1,936.0 835.9,885.5 851.6,846.6 867.3,820.4 883.0,803.0 898.7,790.9 914.5,782.3 930.2,775.8 945.9,770.8 961.6,766.8 977.3,763.6 993.1,760.9 1008.8,758.7 1024.5,756.8 1040.2,755.1 1055.9,753.7 1071.7,752.4 1087.4,751.3 1103.1,750.3 1118.8,749.5 1134.5,748.7 1150.3,747.9 1166.0,747.3 1181.7,746.7 1197.4,746.1 1213.1,745.6 1228.9,745.2 1244.6,744.7 1260.3,744.3 1276.0,743.9 1291.7,743.6 1307.5,743.3 1323.2,743.0 1338.9,742.7 1354.6,742.4 1370.3,742.1 1386.1,741.9 1401.8,741.7 1417.5,741.5 1433.2,741.2 1448.9,741.0 1464.7,740.9 1480.4,740.7 1496.1,740.5 1511.8,740.4 1527.5,740.2 1543.3,740.1 1559.0,739.9 1574.7,739.8 1590.4,739.6 1606.1,739.5 1621.9,739.4 1637.6,739.3 1653.3,739.2 1669.0,739.1 1684.7,739.0 1700.5,738.9 1716.2,738.8 1731.9,738.7 1747.6,738.6 1763.3,738.5 1779.1,738.4 1794.8,738.3 1810.5,738.3 1826.2,738.2 1841.9,738.1 1857.7,738.0 1873.4,738.0 1889.1,737.9" fill="none" stroke="#000" stroke-dashoffset="0.3" stroke-width="5.6" stroke-dasharray="25.6 25.2"/>
</g>
<g stroke="#000" stroke-width="5.8" fill="none"><line x1="317.1" y1="1105.7" x2="317.1" y2="1132.9"/><line x1="474.3" y1="1118.9" x2="474.3" y2="1132.9"/><line x1="631.5" y1="1105.7" x2="631.5" y2="1132.9"/><line x1="788.7" y1="1118.9" x2="788.7" y2="1132.9"/><line x1="945.9" y1="1105.7" x2="945.9" y2="1132.9"/><line x1="1103.1" y1="1118.9" x2="1103.1" y2="1132.9"/><line x1="1260.3" y1="1105.7" x2="1260.3" y2="1132.9"/><line x1="1417.5" y1="1118.9" x2="1417.5" y2="1132.9"/><line x1="1574.7" y1="1105.7" x2="1574.7" y2="1132.9"/><line x1="1731.9" y1="1118.9" x2="1731.9" y2="1132.9"/><line x1="1889.1" y1="1105.7" x2="1889.1" y2="1132.9"/><line x1="1859.0" y1="1132.9" x2="1889.1" y2="1132.9"/><line x1="1874.1" y1="1033.1" x2="1889.1" y2="1033.1"/><line x1="1859.0" y1="933.3" x2="1889.1" y2="933.3"/><line x1="1874.1" y1="833.5" x2="1889.1" y2="833.5"/><line x1="1859.0" y1="733.7" x2="1889.1" y2="733.7"/><line x1="1874.1" y1="634.0" x2="1889.1" y2="634.0"/><line x1="1859.0" y1="534.2" x2="1889.1" y2="534.2"/><line x1="1874.1" y1="434.4" x2="1889.1" y2="434.4"/><line x1="1859.0" y1="334.6" x2="1889.1" y2="334.6"/><line x1="1874.1" y1="234.8" x2="1889.1" y2="234.8"/><line x1="1859.0" y1="135.0" x2="1889.1" y2="135.0"/><line x1="1859.0" y1="2231.0" x2="1889.1" y2="2231.0"/><line x1="1874.1" y1="2116.8" x2="1889.1" y2="2116.8"/><line x1="1859.0" y1="2002.5" x2="1889.1" y2="2002.5"/><line x1="1874.1" y1="1888.2" x2="1889.1" y2="1888.2"/><line x1="1859.0" y1="1774.0" x2="1889.1" y2="1774.0"/><line x1="1874.1" y1="1659.8" x2="1889.1" y2="1659.8"/><line x1="1859.0" y1="1545.5" x2="1889.1" y2="1545.5"/><line x1="1874.1" y1="1431.2" x2="1889.1" y2="1431.2"/><line x1="1859.0" y1="1317.0" x2="1889.1" y2="1317.0"/><line x1="1874.1" y1="1202.8" x2="1889.1" y2="1202.8"/></g>
<g clip-path="url(#ca)">
<polygon points="317.1,1135.9 317.1,1108.1 332.8,1106.6 348.5,1104.9 364.3,1103.0 380.0,1101.0 395.7,1098.7 411.4,1096.1 427.1,1093.3 442.9,1090.2 458.6,1086.7 474.3,1082.7 490.0,1078.2 505.7,1073.1 521.5,1067.3 537.2,1060.6 552.9,1052.9 568.6,1043.9 584.3,1033.5 600.1,1021.2 615.8,1006.6 631.5,989.3 647.2,968.4 662.9,943.3 678.7,912.7 694.4,875.5 710.1,830.3 725.8,775.7 741.5,710.8 757.3,636.3 773.0,556.2 788.7,479.1 804.4,418.7 820.1,390.0 835.9,401.5 851.6,449.6 867.3,521.4 883.0,601.6 898.7,679.2 914.5,748.5 930.2,807.6 945.9,856.8 961.6,897.4 977.3,930.6 993.1,958.0 1008.8,980.6 1024.5,999.4 1040.2,1015.1 1055.9,1028.3 1071.7,1039.6 1087.4,1049.1 1103.1,1057.4 1118.8,1064.5 1134.5,1070.7 1150.3,1076.1 1166.0,1080.8 1181.7,1085.0 1197.4,1088.7 1213.1,1092.0 1228.9,1095.0 1244.6,1097.6 1260.3,1100.0 1276.0,1102.1 1291.7,1104.1 1307.5,1105.9 1323.2,1107.5 1338.9,1109.0 1354.6,1110.3 1370.3,1111.6 1386.1,1112.7 1401.8,1113.8 1417.5,1114.7 1433.2,1115.6 1448.9,1116.5 1464.7,1117.3 1480.4,1118.0 1496.1,1118.7 1511.8,1119.3 1527.5,1119.9 1543.3,1120.4 1559.0,1121.0 1574.7,1121.4 1590.4,1121.9 1606.1,1122.3 1621.9,1122.7 1637.6,1123.1 1653.3,1123.5 1669.0,1123.8 1684.7,1124.1 1700.5,1124.5 1716.2,1124.7 1731.9,1125.0 1747.6,1125.3 1763.3,1125.5 1779.1,1125.8 1794.8,1126.0 1810.5,1126.2 1826.2,1126.4 1841.9,1126.6 1857.7,1126.8 1873.4,1127.0 1889.1,1127.2 1889.1,1135.9" fill="#808080" fill-opacity="0.24"/>
<g clip-path="url(#cAa)" stroke="#0f3a4e" stroke-width="5.8"><line x1="317.1" y1="1105.7" x2="317.1" y2="1132.9"/><line x1="474.3" y1="1118.9" x2="474.3" y2="1132.9"/><line x1="631.5" y1="1105.7" x2="631.5" y2="1132.9"/><line x1="788.7" y1="1118.9" x2="788.7" y2="1132.9"/><line x1="945.9" y1="1105.7" x2="945.9" y2="1132.9"/><line x1="1103.1" y1="1118.9" x2="1103.1" y2="1132.9"/><line x1="1260.3" y1="1105.7" x2="1260.3" y2="1132.9"/><line x1="1417.5" y1="1118.9" x2="1417.5" y2="1132.9"/><line x1="1574.7" y1="1105.7" x2="1574.7" y2="1132.9"/><line x1="1731.9" y1="1118.9" x2="1731.9" y2="1132.9"/><line x1="1889.1" y1="1105.7" x2="1889.1" y2="1132.9"/><line x1="1859.0" y1="1132.9" x2="1889.1" y2="1132.9"/><line x1="1874.1" y1="1033.1" x2="1889.1" y2="1033.1"/><line x1="1859.0" y1="933.3" x2="1889.1" y2="933.3"/><line x1="1874.1" y1="833.5" x2="1889.1" y2="833.5"/><line x1="1859.0" y1="733.7" x2="1889.1" y2="733.7"/><line x1="1874.1" y1="634.0" x2="1889.1" y2="634.0"/><line x1="1859.0" y1="534.2" x2="1889.1" y2="534.2"/><line x1="1874.1" y1="434.4" x2="1889.1" y2="434.4"/><line x1="1859.0" y1="334.6" x2="1889.1" y2="334.6"/><line x1="1874.1" y1="234.8" x2="1889.1" y2="234.8"/><line x1="1859.0" y1="135.0" x2="1889.1" y2="135.0"/><line x1="1859.0" y1="2231.0" x2="1889.1" y2="2231.0"/><line x1="1874.1" y1="2116.8" x2="1889.1" y2="2116.8"/><line x1="1859.0" y1="2002.5" x2="1889.1" y2="2002.5"/><line x1="1874.1" y1="1888.2" x2="1889.1" y2="1888.2"/><line x1="1859.0" y1="1774.0" x2="1889.1" y2="1774.0"/><line x1="1874.1" y1="1659.8" x2="1889.1" y2="1659.8"/><line x1="1859.0" y1="1545.5" x2="1889.1" y2="1545.5"/><line x1="1874.1" y1="1431.2" x2="1889.1" y2="1431.2"/><line x1="1859.0" y1="1317.0" x2="1889.1" y2="1317.0"/><line x1="1874.1" y1="1202.8" x2="1889.1" y2="1202.8"/></g>
<polyline points="317.1,1098.6 332.8,1096.8 348.5,1094.7 364.3,1092.5 380.0,1090.1 395.7,1087.4 411.4,1084.4 427.1,1081.2 442.9,1077.5 458.6,1073.4 474.3,1068.9 490.0,1063.7 505.7,1057.9 521.5,1051.3 537.2,1043.8 552.9,1035.1 568.6,1025.0 584.3,1013.3 600.1,999.6 615.8,983.5 631.5,964.2 647.2,941.2 662.9,913.4 678.7,879.7 694.4,838.7 710.1,788.5 725.8,727.6 741.5,654.3 757.3,568.3 773.0,471.4 788.7,369.2 804.4,271.4 820.1,193.4 835.9,159.9 851.6,163.7 867.3,208.9 883.0,271.7 898.7,337.3 914.5,397.9 930.2,450.5 945.9,494.7 961.6,531.2 977.3,561.3 993.1,586.0 1008.8,606.4 1024.5,623.3 1040.2,637.3 1055.9,649.1 1071.7,659.1 1087.4,667.6 1103.1,674.8 1118.8,681.0 1134.5,686.4 1150.3,691.1 1166.0,695.2 1181.7,698.8 1197.4,701.9 1213.1,704.7 1228.9,707.2 1244.6,709.4 1260.3,711.4 1276.0,713.2 1291.7,714.8 1307.5,716.2 1323.2,717.5 1338.9,718.7 1354.6,719.8 1370.3,720.8 1386.1,721.7 1401.8,722.5 1417.5,723.3 1433.2,724.0 1448.9,724.6 1464.7,725.2 1480.4,725.8 1496.1,726.3 1511.8,726.7 1527.5,727.2 1543.3,727.6 1559.0,728.0 1574.7,728.3 1590.4,728.6 1606.1,728.9 1621.9,729.2 1637.6,729.5 1653.3,729.8 1669.0,730.0 1684.7,730.2 1700.5,730.4 1716.2,730.6 1731.9,730.8 1747.6,731.0 1763.3,731.1 1779.1,731.3 1794.8,731.4 1810.5,731.6 1826.2,731.7 1841.9,731.8 1857.7,731.9 1873.4,732.1 1889.1,732.2" fill="none" stroke="#000" stroke-width="5.8" stroke-linejoin="round"/>
<polyline points="317.1,1108.1 332.8,1106.6 348.5,1104.9 364.3,1103.0 380.0,1101.0 395.7,1098.7 411.4,1096.1 427.1,1093.3 442.9,1090.2 458.6,1086.7 474.3,1082.7 490.0,1078.2 505.7,1073.1 521.5,1067.3 537.2,1060.6 552.9,1052.9 568.6,1043.9 584.3,1033.5 600.1,1021.2 615.8,1006.6 631.5,989.3 647.2,968.4 662.9,943.3 678.7,912.7 694.4,875.5 710.1,830.3 725.8,775.7 741.5,710.8 757.3,636.3 773.0,556.2 788.7,479.1 804.4,418.7 820.1,390.0 835.9,401.5 851.6,449.6 867.3,521.4 883.0,601.6 898.7,679.2 914.5,748.5 930.2,807.6 945.9,856.8 961.6,897.4 977.3,930.6 993.1,958.0 1008.8,980.6 1024.5,999.4 1040.2,1015.1 1055.9,1028.3 1071.7,1039.6 1087.4,1049.1 1103.1,1057.4 1118.8,1064.5 1134.5,1070.7 1150.3,1076.1 1166.0,1080.8 1181.7,1085.0 1197.4,1088.7 1213.1,1092.0 1228.9,1095.0 1244.6,1097.6 1260.3,1100.0 1276.0,1102.1 1291.7,1104.1 1307.5,1105.9 1323.2,1107.5 1338.9,1109.0 1354.6,1110.3 1370.3,1111.6 1386.1,1112.7 1401.8,1113.8 1417.5,1114.7 1433.2,1115.6 1448.9,1116.5 1464.7,1117.3 1480.4,1118.0 1496.1,1118.7 1511.8,1119.3 1527.5,1119.9 1543.3,1120.4 1559.0,1121.0 1574.7,1121.4 1590.4,1121.9 1606.1,1122.3 1621.9,1122.7 1637.6,1123.1 1653.3,1123.5 1669.0,1123.8 1684.7,1124.1 1700.5,1124.5 1716.2,1124.7 1731.9,1125.0 1747.6,1125.3 1763.3,1125.5 1779.1,1125.8 1794.8,1126.0 1810.5,1126.2 1826.2,1126.4 1841.9,1126.6 1857.7,1126.8 1873.4,1127.0 1889.1,1127.2" fill="none" stroke="#000" stroke-dashoffset="24.4" stroke-width="5.6" stroke-dasharray="25.6 25.2"/>
</g>
<g clip-path="url(#cb)">
<polygon points="317.1,2231.0 317.1,2222.2 332.8,2222.0 348.5,2221.8 364.3,2221.5 380.0,2221.2 395.7,2221.0 411.4,2220.7 427.1,2220.4 442.9,2220.0 458.6,2219.7 474.3,2219.3 490.0,2218.9 505.7,2218.5 521.5,2218.0 537.2,2217.5 552.9,2217.0 568.6,2216.4 584.3,2215.8 600.1,2215.1 615.8,2214.4 631.5,2213.6 647.2,2212.7 662.9,2211.7 678.7,2210.6 694.4,2209.3 710.1,2207.9 725.8,2206.3 741.5,2204.5 757.3,2202.3 773.0,2199.9 788.7,2196.9 804.4,2193.3 820.1,2189.0 835.9,2183.5 851.6,2176.4 867.3,2167.1 883.0,2154.3 898.7,2135.8 914.5,2108.4 930.2,2067.5 945.9,2012.0 961.6,1953.6 977.3,1907.4 993.1,1875.9 1008.8,1854.9 1024.5,1840.5 1040.2,1830.1 1055.9,1822.4 1071.7,1816.4 1087.4,1811.7 1103.1,1807.9 1118.8,1804.8 1134.5,1802.1 1150.3,1799.9 1166.0,1798.0 1181.7,1796.3 1197.4,1794.8 1213.1,1793.5 1228.9,1792.4 1244.6,1791.3 1260.3,1790.4 1276.0,1789.6 1291.7,1788.8 1307.5,1788.1 1323.2,1787.5 1338.9,1786.9 1354.6,1786.3 1370.3,1785.8 1386.1,1785.4 1401.8,1784.9 1417.5,1784.5 1433.2,1784.1 1448.9,1783.8 1464.7,1783.4 1480.4,1783.1 1496.1,1782.8 1511.8,1782.5 1527.5,1782.3 1543.3,1782.0 1559.0,1781.8 1574.7,1781.5 1590.4,1781.3 1606.1,1781.1 1621.9,1780.9 1637.6,1780.7 1653.3,1780.6 1669.0,1780.4 1684.7,1780.2 1700.5,1780.1 1716.2,1779.9 1731.9,1779.8 1747.6,1779.6 1763.3,1779.5 1779.1,1779.4 1794.8,1779.2 1810.5,1779.1 1826.2,1779.0 1841.9,1778.9 1857.7,1778.8 1873.4,1778.7 1889.1,1778.6 1889.1,2231.0" fill="#acdaef"/>
<polyline points="317.1,2222.2 332.8,2222.0 348.5,2221.8 364.3,2221.5 380.0,2221.2 395.7,2221.0 411.4,2220.7 427.1,2220.4 442.9,2220.0 458.6,2219.7 474.3,2219.3 490.0,2218.9 505.7,2218.5 521.5,2218.0 537.2,2217.5 552.9,2217.0 568.6,2216.4 584.3,2215.8 600.1,2215.1 615.8,2214.4 631.5,2213.6 647.2,2212.7 662.9,2211.7 678.7,2210.6 694.4,2209.3 710.1,2207.9 725.8,2206.3 741.5,2204.5 757.3,2202.3 773.0,2199.9 788.7,2196.9 804.4,2193.3 820.1,2189.0 835.9,2183.5 851.6,2176.4 867.3,2167.1 883.0,2154.3 898.7,2135.8 914.5,2108.4 930.2,2067.5 945.9,2012.0 961.6,1953.6 977.3,1907.4 993.1,1875.9 1008.8,1854.9 1024.5,1840.5 1040.2,1830.1 1055.9,1822.4 1071.7,1816.4 1087.4,1811.7 1103.1,1807.9 1118.8,1804.8 1134.5,1802.1 1150.3,1799.9 1166.0,1798.0 1181.7,1796.3 1197.4,1794.8 1213.1,1793.5 1228.9,1792.4 1244.6,1791.3 1260.3,1790.4 1276.0,1789.6 1291.7,1788.8 1307.5,1788.1 1323.2,1787.5 1338.9,1786.9 1354.6,1786.3 1370.3,1785.8 1386.1,1785.4 1401.8,1784.9 1417.5,1784.5 1433.2,1784.1 1448.9,1783.8 1464.7,1783.4 1480.4,1783.1 1496.1,1782.8 1511.8,1782.5 1527.5,1782.3 1543.3,1782.0 1559.0,1781.8 1574.7,1781.5 1590.4,1781.3 1606.1,1781.1 1621.9,1780.9 1637.6,1780.7 1653.3,1780.6 1669.0,1780.4 1684.7,1780.2 1700.5,1780.1 1716.2,1779.9 1731.9,1779.8 1747.6,1779.6 1763.3,1779.5 1779.1,1779.4 1794.8,1779.2 1810.5,1779.1 1826.2,1779.0 1841.9,1778.9 1857.7,1778.8 1873.4,1778.7 1889.1,1778.6" fill="none" stroke="#000" stroke-dashoffset="21.0" stroke-width="6.3" stroke-dasharray="25.9 25.6"/>
<polygon points="317.1,2231.0 317.1,2224.6 332.8,2224.2 348.5,2223.8 364.3,2223.3 380.0,2222.9 395.7,2222.3 411.4,2221.8 427.1,2221.1 442.9,2220.4 458.6,2219.6 474.3,2218.8 490.0,2217.8 505.7,2216.7 521.5,2215.5 537.2,2214.1 552.9,2212.5 568.6,2210.7 584.3,2208.7 600.1,2206.3 615.8,2203.5 631.5,2200.2 647.2,2196.4 662.9,2191.9 678.7,2186.4 694.4,2179.8 710.1,2171.8 725.8,2162.0 741.5,2149.9 757.3,2134.9 773.0,2116.3 788.7,2093.6 804.4,2066.4 820.1,2035.4 835.9,2003.2 851.6,1975.1 867.3,1958.2 883.0,1958.1 898.7,1974.8 914.5,2002.8 930.2,2035.0 945.9,2066.0 961.6,2093.3 977.3,2116.1 993.1,2134.7 1008.8,2149.7 1024.5,2161.9 1040.2,2171.7 1055.9,2179.7 1071.7,2186.3 1087.4,2191.8 1103.1,2196.4 1118.8,2200.2 1134.5,2203.5 1150.3,2206.2 1166.0,2208.6 1181.7,2210.7 1197.4,2212.5 1213.1,2214.1 1228.9,2215.5 1244.6,2216.7 1260.3,2217.8 1276.0,2218.8 1291.7,2219.6 1307.5,2220.4 1323.2,2221.1 1338.9,2221.8 1354.6,2222.3 1370.3,2222.9 1386.1,2223.3 1401.8,2223.8 1417.5,2224.2 1433.2,2224.5 1448.9,2224.9 1464.7,2225.2 1480.4,2225.5 1496.1,2225.8 1511.8,2226.0 1527.5,2226.2 1543.3,2226.5 1559.0,2226.7 1574.7,2226.9 1590.4,2227.0 1606.1,2227.2 1621.9,2227.4 1637.6,2227.5 1653.3,2227.6 1669.0,2227.8 1684.7,2227.9 1700.5,2228.0 1716.2,2228.1 1731.9,2228.2 1747.6,2228.3 1763.3,2228.4 1779.1,2228.5 1794.8,2228.6 1810.5,2228.7 1826.2,2228.7 1841.9,2228.8 1857.7,2228.9 1873.4,2229.0 1889.1,2229.0 1889.1,2231.0" fill="#d9d9d9"/>
<polyline points="317.1,2224.6 332.8,2224.2 348.5,2223.8 364.3,2223.3 380.0,2222.9 395.7,2222.3 411.4,2221.8 427.1,2221.1 442.9,2220.4 458.6,2219.6 474.3,2218.8 490.0,2217.8 505.7,2216.7 521.5,2215.5 537.2,2214.1 552.9,2212.5 568.6,2210.7 584.3,2208.7 600.1,2206.3 615.8,2203.5 631.5,2200.2 647.2,2196.4 662.9,2191.9 678.7,2186.4 694.4,2179.8 710.1,2171.8 725.8,2162.0 741.5,2149.9 757.3,2134.9 773.0,2116.3 788.7,2093.6 804.4,2066.4 820.1,2035.4 835.9,2003.2 851.6,1975.1 867.3,1958.2 883.0,1958.1 898.7,1974.8 914.5,2002.8 930.2,2035.0 945.9,2066.0 961.6,2093.3 977.3,2116.1 993.1,2134.7 1008.8,2149.7 1024.5,2161.9 1040.2,2171.7 1055.9,2179.7 1071.7,2186.3 1087.4,2191.8 1103.1,2196.4 1118.8,2200.2 1134.5,2203.5 1150.3,2206.2 1166.0,2208.6 1181.7,2210.7 1197.4,2212.5 1213.1,2214.1 1228.9,2215.5 1244.6,2216.7 1260.3,2217.8 1276.0,2218.8 1291.7,2219.6 1307.5,2220.4 1323.2,2221.1 1338.9,2221.8 1354.6,2222.3 1370.3,2222.9 1386.1,2223.3 1401.8,2223.8 1417.5,2224.2 1433.2,2224.5 1448.9,2224.9 1464.7,2225.2 1480.4,2225.5 1496.1,2225.8 1511.8,2226.0 1527.5,2226.2 1543.3,2226.5 1559.0,2226.7 1574.7,2226.9 1590.4,2227.0 1606.1,2227.2 1621.9,2227.4 1637.6,2227.5 1653.3,2227.6 1669.0,2227.8 1684.7,2227.9 1700.5,2228.0 1716.2,2228.1 1731.9,2228.2 1747.6,2228.3 1763.3,2228.4 1779.1,2228.5 1794.8,2228.6 1810.5,2228.7 1826.2,2228.7 1841.9,2228.8 1857.7,2228.9 1873.4,2229.0 1889.1,2229.0" fill="none" stroke="#000" stroke-dashoffset="4.2" stroke-width="7.4" stroke-dasharray="4 38.5" stroke-linecap="round"/>
<g clip-path="url(#cGr)">
<polygon points="317.1,2231.0 317.1,2224.9 332.8,2224.5 348.5,2224.2 364.3,2223.9 380.0,2223.5 395.7,2223.0 411.4,2222.6 427.1,2222.1 442.9,2221.5 458.6,2220.9 474.3,2220.3 490.0,2219.6 505.7,2218.8 521.5,2217.9 537.2,2216.9 552.9,2215.9 568.6,2214.6 584.3,2213.3 600.1,2211.8 615.8,2210.0 631.5,2208.1 647.2,2205.8 662.9,2203.2 678.7,2200.2 694.4,2196.7 710.1,2192.6 725.8,2187.7 741.5,2181.9 757.3,2174.9 773.0,2166.5 788.7,2156.2 804.4,2143.4 820.1,2127.6 835.9,2107.9 851.6,2083.2 867.3,2052.6 883.0,2015.5 898.7,1972.7 914.5,1927.9 930.2,1888.8 945.9,1866.2 961.6,1868.2 977.3,1894.0 993.1,1934.6 1008.8,1979.5 1024.5,2021.6 1040.2,2057.7 1055.9,2087.3 1071.7,2111.2 1087.4,2130.3 1103.1,2145.6 1118.8,2157.9 1134.5,2167.9 1150.3,2176.1 1166.0,2182.9 1181.7,2188.5 1197.4,2193.2 1213.1,2197.3 1228.9,2200.7 1244.6,2203.6 1260.3,2206.2 1276.0,2208.4 1291.7,2210.3 1307.5,2212.0 1323.2,2213.5 1338.9,2214.8 1354.6,2216.0 1370.3,2217.1 1386.1,2218.0 1401.8,2218.9 1417.5,2219.7 1433.2,2220.4 1448.9,2221.0 1464.7,2221.6 1480.4,2222.2 1496.1,2222.7 1511.8,2223.1 1527.5,2223.5 1543.3,2223.9 1559.0,2224.3 1574.7,2224.6 1590.4,2224.9 1606.1,2225.2 1621.9,2225.5 1637.6,2225.7 1653.3,2225.9 1669.0,2226.1 1684.7,2226.4 1700.5,2226.5 1716.2,2226.7 1731.9,2226.9 1747.6,2227.1 1763.3,2227.2 1779.1,2227.3 1794.8,2227.5 1810.5,2227.6 1826.2,2227.7 1841.9,2227.8 1857.7,2227.9 1873.4,2228.0 1889.1,2228.1 1889.1,2231.0" fill="#7df8a5"/>
<g clip-path="url(#cG1)"><polygon points="317.1,2231.0 317.1,2224.9 332.8,2224.5 348.5,2224.2 364.3,2223.9 380.0,2223.5 395.7,2223.0 411.4,2222.6 427.1,2222.1 442.9,2221.5 458.6,2220.9 474.3,2220.3 490.0,2219.6 505.7,2218.8 521.5,2217.9 537.2,2216.9 552.9,2215.9 568.6,2214.6 584.3,2213.3 600.1,2211.8 615.8,2210.0 631.5,2208.1 647.2,2205.8 662.9,2203.2 678.7,2200.2 694.4,2196.7 710.1,2192.6 725.8,2187.7 741.5,2181.9 757.3,2174.9 773.0,2166.5 788.7,2156.2 804.4,2143.4 820.1,2127.6 835.9,2107.9 851.6,2083.2 867.3,2052.6 883.0,2015.5 898.7,1972.7 914.5,1927.9 930.2,1888.8 945.9,1866.2 961.6,1868.2 977.3,1894.0 993.1,1934.6 1008.8,1979.5 1024.5,2021.6 1040.2,2057.7 1055.9,2087.3 1071.7,2111.2 1087.4,2130.3 1103.1,2145.6 1118.8,2157.9 1134.5,2167.9 1150.3,2176.1 1166.0,2182.9 1181.7,2188.5 1197.4,2193.2 1213.1,2197.3 1228.9,2200.7 1244.6,2203.6 1260.3,2206.2 1276.0,2208.4 1291.7,2210.3 1307.5,2212.0 1323.2,2213.5 1338.9,2214.8 1354.6,2216.0 1370.3,2217.1 1386.1,2218.0 1401.8,2218.9 1417.5,2219.7 1433.2,2220.4 1448.9,2221.0 1464.7,2221.6 1480.4,2222.2 1496.1,2222.7 1511.8,2223.1 1527.5,2223.5 1543.3,2223.9 1559.0,2224.3 1574.7,2224.6 1590.4,2224.9 1606.1,2225.2 1621.9,2225.5 1637.6,2225.7 1653.3,2225.9 1669.0,2226.1 1684.7,2226.4 1700.5,2226.5 1716.2,2226.7 1731.9,2226.9 1747.6,2227.1 1763.3,2227.2 1779.1,2227.3 1794.8,2227.5 1810.5,2227.6 1826.2,2227.7 1841.9,2227.8 1857.7,2227.9 1873.4,2228.0 1889.1,2228.1 1889.1,2231.0" fill="#55e18c"/></g>
<g clip-path="url(#cAb)"><polygon points="317.1,2231.0 317.1,2224.9 332.8,2224.5 348.5,2224.2 364.3,2223.9 380.0,2223.5 395.7,2223.0 411.4,2222.6 427.1,2222.1 442.9,2221.5 458.6,2220.9 474.3,2220.3 490.0,2219.6 505.7,2218.8 521.5,2217.9 537.2,2216.9 552.9,2215.9 568.6,2214.6 584.3,2213.3 600.1,2211.8 615.8,2210.0 631.5,2208.1 647.2,2205.8 662.9,2203.2 678.7,2200.2 694.4,2196.7 710.1,2192.6 725.8,2187.7 741.5,2181.9 757.3,2174.9 773.0,2166.5 788.7,2156.2 804.4,2143.4 820.1,2127.6 835.9,2107.9 851.6,2083.2 867.3,2052.6 883.0,2015.5 898.7,1972.7 914.5,1927.9 930.2,1888.8 945.9,1866.2 961.6,1868.2 977.3,1894.0 993.1,1934.6 1008.8,1979.5 1024.5,2021.6 1040.2,2057.7 1055.9,2087.3 1071.7,2111.2 1087.4,2130.3 1103.1,2145.6 1118.8,2157.9 1134.5,2167.9 1150.3,2176.1 1166.0,2182.9 1181.7,2188.5 1197.4,2193.2 1213.1,2197.3 1228.9,2200.7 1244.6,2203.6 1260.3,2206.2 1276.0,2208.4 1291.7,2210.3 1307.5,2212.0 1323.2,2213.5 1338.9,2214.8 1354.6,2216.0 1370.3,2217.1 1386.1,2218.0 1401.8,2218.9 1417.5,2219.7 1433.2,2220.4 1448.9,2221.0 1464.7,2221.6 1480.4,2222.2 1496.1,2222.7 1511.8,2223.1 1527.5,2223.5 1543.3,2223.9 1559.0,2224.3 1574.7,2224.6 1590.4,2224.9 1606.1,2225.2 1621.9,2225.5 1637.6,2225.7 1653.3,2225.9 1669.0,2226.1 1684.7,2226.4 1700.5,2226.5 1716.2,2226.7 1731.9,2226.9 1747.6,2227.1 1763.3,2227.2 1779.1,2227.3 1794.8,2227.5 1810.5,2227.6 1826.2,2227.7 1841.9,2227.8 1857.7,2227.9 1873.4,2228.0 1889.1,2228.1 1889.1,2231.0" fill="#00e496"/><g clip-path="url(#cG1)"><polygon points="317.1,2231.0 317.1,2224.9 332.8,2224.5 348.5,2224.2 364.3,2223.9 380.0,2223.5 395.7,2223.0 411.4,2222.6 427.1,2222.1 442.9,2221.5 458.6,2220.9 474.3,2220.3 490.0,2219.6 505.7,2218.8 521.5,2217.9 537.2,2216.9 552.9,2215.9 568.6,2214.6 584.3,2213.3 600.1,2211.8 615.8,2210.0 631.5,2208.1 647.2,2205.8 662.9,2203.2 678.7,2200.2 694.4,2196.7 710.1,2192.6 725.8,2187.7 741.5,2181.9 757.3,2174.9 773.0,2166.5 788.7,2156.2 804.4,2143.4 820.1,2127.6 835.9,2107.9 851.6,2083.2 867.3,2052.6 883.0,2015.5 898.7,1972.7 914.5,1927.9 930.2,1888.8 945.9,1866.2 961.6,1868.2 977.3,1894.0 993.1,1934.6 1008.8,1979.5 1024.5,2021.6 1040.2,2057.7 1055.9,2087.3 1071.7,2111.2 1087.4,2130.3 1103.1,2145.6 1118.8,2157.9 1134.5,2167.9 1150.3,2176.1 1166.0,2182.9 1181.7,2188.5 1197.4,2193.2 1213.1,2197.3 1228.9,2200.7 1244.6,2203.6 1260.3,2206.2 1276.0,2208.4 1291.7,2210.3 1307.5,2212.0 1323.2,2213.5 1338.9,2214.8 1354.6,2216.0 1370.3,2217.1 1386.1,2218.0 1401.8,2218.9 1417.5,2219.7 1433.2,2220.4 1448.9,2221.0 1464.7,2221.6 1480.4,2222.2 1496.1,2222.7 1511.8,2223.1 1527.5,2223.5 1543.3,2223.9 1559.0,2224.3 1574.7,2224.6 1590.4,2224.9 1606.1,2225.2 1621.9,2225.5 1637.6,2225.7 1653.3,2225.9 1669.0,2226.1 1684.7,2226.4 1700.5,2226.5 1716.2,2226.7 1731.9,2226.9 1747.6,2227.1 1763.3,2227.2 1779.1,2227.3 1794.8,2227.5 1810.5,2227.6 1826.2,2227.7 1841.9,2227.8 1857.7,2227.9 1873.4,2228.0 1889.1,2228.1 1889.1,2231.0" fill="#00cd82"/></g></g>
<polyline points="317.1,2222.2 332.8,2222.0 348.5,2221.8 364.3,2221.5 380.0,2221.2 395.7,2221.0 411.4,2220.7 427.1,2220.4 442.9,2220.0 458.6,2219.7 474.3,2219.3 490.0,2218.9 505.7,2218.5 521.5,2218.0 537.2,2217.5 552.9,2217.0 568.6,2216.4 584.3,2215.8 600.1,2215.1 615.8,2214.4 631.5,2213.6 647.2,2212.7 662.9,2211.7 678.7,2210.6 694.4,2209.3 710.1,2207.9 725.8,2206.3 741.5,2204.5 757.3,2202.3 773.0,2199.9 788.7,2196.9 804.4,2193.3 820.1,2189.0 835.9,2183.5 851.6,2176.4 867.3,2167.1 883.0,2154.3 898.7,2135.8 914.5,2108.4 930.2,2067.5 945.9,2012.0 961.6,1953.6 977.3,1907.4 993.1,1875.9 1008.8,1854.9 1024.5,1840.5 1040.2,1830.1 1055.9,1822.4 1071.7,1816.4 1087.4,1811.7 1103.1,1807.9 1118.8,1804.8 1134.5,1802.1 1150.3,1799.9 1166.0,1798.0 1181.7,1796.3 1197.4,1794.8 1213.1,1793.5 1228.9,1792.4 1244.6,1791.3 1260.3,1790.4 1276.0,1789.6 1291.7,1788.8 1307.5,1788.1 1323.2,1787.5 1338.9,1786.9 1354.6,1786.3 1370.3,1785.8 1386.1,1785.4 1401.8,1784.9 1417.5,1784.5 1433.2,1784.1 1448.9,1783.8 1464.7,1783.4 1480.4,1783.1 1496.1,1782.8 1511.8,1782.5 1527.5,1782.3 1543.3,1782.0 1559.0,1781.8 1574.7,1781.5 1590.4,1781.3 1606.1,1781.1 1621.9,1780.9 1637.6,1780.7 1653.3,1780.6 1669.0,1780.4 1684.7,1780.2 1700.5,1780.1 1716.2,1779.9 1731.9,1779.8 1747.6,1779.6 1763.3,1779.5 1779.1,1779.4 1794.8,1779.2 1810.5,1779.1 1826.2,1779.0 1841.9,1778.9 1857.7,1778.8 1873.4,1778.7 1889.1,1778.6" fill="none" stroke="#005f00" stroke-dashoffset="21.0" stroke-width="6.3" stroke-dasharray="25.9 25.6"/>
<polyline points="317.1,2224.6 332.8,2224.2 348.5,2223.8 364.3,2223.3 380.0,2222.9 395.7,2222.3 411.4,2221.8 427.1,2221.1 442.9,2220.4 458.6,2219.6 474.3,2218.8 490.0,2217.8 505.7,2216.7 521.5,2215.5 537.2,2214.1 552.9,2212.5 568.6,2210.7 584.3,2208.7 600.1,2206.3 615.8,2203.5 631.5,2200.2 647.2,2196.4 662.9,2191.9 678.7,2186.4 694.4,2179.8 710.1,2171.8 725.8,2162.0 741.5,2149.9 757.3,2134.9 773.0,2116.3 788.7,2093.6 804.4,2066.4 820.1,2035.4 835.9,2003.2 851.6,1975.1 867.3,1958.2 883.0,1958.1 898.7,1974.8 914.5,2002.8 930.2,2035.0 945.9,2066.0 961.6,2093.3 977.3,2116.1 993.1,2134.7 1008.8,2149.7 1024.5,2161.9 1040.2,2171.7 1055.9,2179.7 1071.7,2186.3 1087.4,2191.8 1103.1,2196.4 1118.8,2200.2 1134.5,2203.5 1150.3,2206.2 1166.0,2208.6 1181.7,2210.7 1197.4,2212.5 1213.1,2214.1 1228.9,2215.5 1244.6,2216.7 1260.3,2217.8 1276.0,2218.8 1291.7,2219.6 1307.5,2220.4 1323.2,2221.1 1338.9,2221.8 1354.6,2222.3 1370.3,2222.9 1386.1,2223.3 1401.8,2223.8 1417.5,2224.2 1433.2,2224.5 1448.9,2224.9 1464.7,2225.2 1480.4,2225.5 1496.1,2225.8 1511.8,2226.0 1527.5,2226.2 1543.3,2226.5 1559.0,2226.7 1574.7,2226.9 1590.4,2227.0 1606.1,2227.2 1621.9,2227.4 1637.6,2227.5 1653.3,2227.6 1669.0,2227.8 1684.7,2227.9 1700.5,2228.0 1716.2,2228.1 1731.9,2228.2 1747.6,2228.3 1763.3,2228.4 1779.1,2228.5 1794.8,2228.6 1810.5,2228.7 1826.2,2228.7 1841.9,2228.8 1857.7,2228.9 1873.4,2229.0 1889.1,2229.0" fill="none" stroke="#005f00" stroke-dashoffset="4.2" stroke-width="7.4" stroke-dasharray="4 38.5" stroke-linecap="round"/>
</g>
<polyline points="317.1,2224.9 332.8,2224.5 348.5,2224.2 364.3,2223.9 380.0,2223.5 395.7,2223.0 411.4,2222.6 427.1,2222.1 442.9,2221.5 458.6,2220.9 474.3,2220.3 490.0,2219.6 505.7,2218.8 521.5,2217.9 537.2,2216.9 552.9,2215.9 568.6,2214.6 584.3,2213.3 600.1,2211.8 615.8,2210.0 631.5,2208.1 647.2,2205.8 662.9,2203.2 678.7,2200.2 694.4,2196.7 710.1,2192.6 725.8,2187.7 741.5,2181.9 757.3,2174.9 773.0,2166.5 788.7,2156.2 804.4,2143.4 820.1,2127.6 835.9,2107.9 851.6,2083.2 867.3,2052.6 883.0,2015.5 898.7,1972.7 914.5,1927.9 930.2,1888.8 945.9,1866.2 961.6,1868.2 977.3,1894.0 993.1,1934.6 1008.8,1979.5 1024.5,2021.6 1040.2,2057.7 1055.9,2087.3 1071.7,2111.2 1087.4,2130.3 1103.1,2145.6 1118.8,2157.9 1134.5,2167.9 1150.3,2176.1 1166.0,2182.9 1181.7,2188.5 1197.4,2193.2 1213.1,2197.3 1228.9,2200.7 1244.6,2203.6 1260.3,2206.2 1276.0,2208.4 1291.7,2210.3 1307.5,2212.0 1323.2,2213.5 1338.9,2214.8 1354.6,2216.0 1370.3,2217.1 1386.1,2218.0 1401.8,2218.9 1417.5,2219.7 1433.2,2220.4 1448.9,2221.0 1464.7,2221.6 1480.4,2222.2 1496.1,2222.7 1511.8,2223.1 1527.5,2223.5 1543.3,2223.9 1559.0,2224.3 1574.7,2224.6 1590.4,2224.9 1606.1,2225.2 1621.9,2225.5 1637.6,2225.7 1653.3,2225.9 1669.0,2226.1 1684.7,2226.4 1700.5,2226.5 1716.2,2226.7 1731.9,2226.9 1747.6,2227.1 1763.3,2227.2 1779.1,2227.3 1794.8,2227.5 1810.5,2227.6 1826.2,2227.7 1841.9,2227.8 1857.7,2227.9 1873.4,2228.0 1889.1,2228.1" fill="none" stroke="#000" stroke-dashoffset="6.1" stroke-width="7.4" stroke-dasharray="4 38.5" stroke-linecap="round"/>
<polygon points="317.1,2231.0 317.1,2227.7 332.8,2227.6 348.5,2227.5 364.3,2227.4 380.0,2227.2 395.7,2227.1 411.4,2226.9 427.1,2226.8 442.9,2226.6 458.6,2226.4 474.3,2226.2 490.0,2226.0 505.7,2225.8 521.5,2225.5 537.2,2225.3 552.9,2225.0 568.6,2224.7 584.3,2224.4 600.1,2224.0 615.8,2223.7 631.5,2223.3 647.2,2222.8 662.9,2222.4 678.7,2221.9 694.4,2221.3 710.1,2220.7 725.8,2220.0 741.5,2219.3 757.3,2218.5 773.0,2217.6 788.7,2216.6 804.4,2215.5 820.1,2214.2 835.9,2212.8 851.6,2211.3 867.3,2209.5 883.0,2207.5 898.7,2205.2 914.5,2202.6 930.2,2199.5 945.9,2196.0 961.6,2191.9 977.3,2187.1 993.1,2181.3 1008.8,2174.5 1024.5,2166.3 1040.2,2156.4 1055.9,2144.4 1071.7,2129.9 1087.4,2112.3 1103.1,2091.0 1118.8,2066.0 1134.5,2037.6 1150.3,2007.5 1166.0,1979.0 1181.7,1957.5 1197.4,1948.4 1213.1,1954.1 1228.9,1973.2 1244.6,2000.5 1260.3,2030.6 1276.0,2059.7 1291.7,2085.5 1307.5,2107.6 1323.2,2126.1 1338.9,2141.3 1354.6,2153.8 1370.3,2164.2 1386.1,2172.7 1401.8,2179.8 1417.5,2185.8 1433.2,2190.8 1448.9,2195.1 1464.7,2198.8 1480.4,2201.9 1496.1,2204.6 1511.8,2207.0 1527.5,2209.1 1543.3,2210.9 1559.0,2212.5 1574.7,2213.9 1590.4,2215.2 1606.1,2216.3 1621.9,2217.3 1637.6,2218.3 1653.3,2219.1 1669.0,2219.8 1684.7,2220.5 1700.5,2221.2 1716.2,2221.7 1731.9,2222.2 1747.6,2222.7 1763.3,2223.2 1779.1,2223.6 1794.8,2224.0 1810.5,2224.3 1826.2,2224.6 1841.9,2224.9 1857.7,2225.2 1873.4,2225.5 1889.1,2225.7 1889.1,2231.0" fill="#4e4e4e" fill-opacity="0.35"/>
<g clip-path="url(#cGr)"><polygon points="317.1,2231.0 317.1,2227.7 332.8,2227.6 348.5,2227.5 364.3,2227.4 380.0,2227.2 395.7,2227.1 411.4,2226.9 427.1,2226.8 442.9,2226.6 458.6,2226.4 474.3,2226.2 490.0,2226.0 505.7,2225.8 521.5,2225.5 537.2,2225.3 552.9,2225.0 568.6,2224.7 584.3,2224.4 600.1,2224.0 615.8,2223.7 631.5,2223.3 647.2,2222.8 662.9,2222.4 678.7,2221.9 694.4,2221.3 710.1,2220.7 725.8,2220.0 741.5,2219.3 757.3,2218.5 773.0,2217.6 788.7,2216.6 804.4,2215.5 820.1,2214.2 835.9,2212.8 851.6,2211.3 867.3,2209.5 883.0,2207.5 898.7,2205.2 914.5,2202.6 930.2,2199.5 945.9,2196.0 961.6,2191.9 977.3,2187.1 993.1,2181.3 1008.8,2174.5 1024.5,2166.3 1040.2,2156.4 1055.9,2144.4 1071.7,2129.9 1087.4,2112.3 1103.1,2091.0 1118.8,2066.0 1134.5,2037.6 1150.3,2007.5 1166.0,1979.0 1181.7,1957.5 1197.4,1948.4 1213.1,1954.1 1228.9,1973.2 1244.6,2000.5 1260.3,2030.6 1276.0,2059.7 1291.7,2085.5 1307.5,2107.6 1323.2,2126.1 1338.9,2141.3 1354.6,2153.8 1370.3,2164.2 1386.1,2172.7 1401.8,2179.8 1417.5,2185.8 1433.2,2190.8 1448.9,2195.1 1464.7,2198.8 1480.4,2201.9 1496.1,2204.6 1511.8,2207.0 1527.5,2209.1 1543.3,2210.9 1559.0,2212.5 1574.7,2213.9 1590.4,2215.2 1606.1,2216.3 1621.9,2217.3 1637.6,2218.3 1653.3,2219.1 1669.0,2219.8 1684.7,2220.5 1700.5,2221.2 1716.2,2221.7 1731.9,2222.2 1747.6,2222.7 1763.3,2223.2 1779.1,2223.6 1794.8,2224.0 1810.5,2224.3 1826.2,2224.6 1841.9,2224.9 1857.7,2225.2 1873.4,2225.5 1889.1,2225.7 1889.1,2231.0" fill="#ff8c78" fill-opacity="0.1"/></g>
<polyline points="317.1,2227.7 332.8,2227.6 348.5,2227.5 364.3,2227.4 380.0,2227.2 395.7,2227.1 411.4,2226.9 427.1,2226.8 442.9,2226.6 458.6,2226.4 474.3,2226.2 490.0,2226.0 505.7,2225.8 521.5,2225.5 537.2,2225.3 552.9,2225.0 568.6,2224.7 584.3,2224.4 600.1,2224.0 615.8,2223.7 631.5,2223.3 647.2,2222.8 662.9,2222.4 678.7,2221.9 694.4,2221.3 710.1,2220.7 725.8,2220.0 741.5,2219.3 757.3,2218.5 773.0,2217.6 788.7,2216.6 804.4,2215.5 820.1,2214.2 835.9,2212.8 851.6,2211.3 867.3,2209.5 883.0,2207.5 898.7,2205.2 914.5,2202.6 930.2,2199.5 945.9,2196.0 961.6,2191.9 977.3,2187.1 993.1,2181.3 1008.8,2174.5 1024.5,2166.3 1040.2,2156.4 1055.9,2144.4 1071.7,2129.9 1087.4,2112.3 1103.1,2091.0 1118.8,2066.0 1134.5,2037.6 1150.3,2007.5 1166.0,1979.0 1181.7,1957.5 1197.4,1948.4 1213.1,1954.1 1228.9,1973.2 1244.6,2000.5 1260.3,2030.6 1276.0,2059.7 1291.7,2085.5 1307.5,2107.6 1323.2,2126.1 1338.9,2141.3 1354.6,2153.8 1370.3,2164.2 1386.1,2172.7 1401.8,2179.8 1417.5,2185.8 1433.2,2190.8 1448.9,2195.1 1464.7,2198.8 1480.4,2201.9 1496.1,2204.6 1511.8,2207.0 1527.5,2209.1 1543.3,2210.9 1559.0,2212.5 1574.7,2213.9 1590.4,2215.2 1606.1,2216.3 1621.9,2217.3 1637.6,2218.3 1653.3,2219.1 1669.0,2219.8 1684.7,2220.5 1700.5,2221.2 1716.2,2221.7 1731.9,2222.2 1747.6,2222.7 1763.3,2223.2 1779.1,2223.6 1794.8,2224.0 1810.5,2224.3 1826.2,2224.6 1841.9,2224.9 1857.7,2225.2 1873.4,2225.5 1889.1,2225.7" fill="none" stroke="#000" stroke-dashoffset="5.7" stroke-width="7.4" stroke-dasharray="4 38.5" stroke-linecap="round"/>
<polygon points="317.1,2231.0 317.1,2229.2 332.8,2229.1 348.5,2229.0 364.3,2228.9 380.0,2228.7 395.7,2228.5 411.4,2228.4 427.1,2228.2 442.9,2227.9 458.6,2227.7 474.3,2227.4 490.0,2227.0 505.7,2226.7 521.5,2226.2 537.2,2225.7 552.9,2225.1 568.6,2224.4 584.3,2223.6 600.1,2222.6 615.8,2221.5 631.5,2220.1 647.2,2218.3 662.9,2216.1 678.7,2213.4 694.4,2210.0 710.1,2205.5 725.8,2199.8 741.5,2192.4 757.3,2182.9 773.0,2171.4 788.7,2158.7 804.4,2147.4 820.1,2141.3 835.9,2143.3 851.6,2152.4 867.3,2164.9 883.0,2177.2 898.7,2187.7 914.5,2196.2 930.2,2202.7 945.9,2207.8 961.6,2211.7 977.3,2214.8 993.1,2217.2 1008.8,2219.2 1024.5,2220.8 1040.2,2222.1 1055.9,2223.1 1071.7,2224.0 1087.4,2224.8 1103.1,2225.4 1118.8,2226.0 1134.5,2226.4 1150.3,2226.8 1166.0,2227.2 1181.7,2227.5 1197.4,2227.8 1213.1,2228.0 1228.9,2228.3 1244.6,2228.5 1260.3,2228.6 1276.0,2228.8 1291.7,2228.9 1307.5,2229.1 1323.2,2229.2 1338.9,2229.3 1354.6,2229.4 1370.3,2229.5 1386.1,2229.6 1401.8,2229.6 1417.5,2229.7 1433.2,2229.8 1448.9,2229.8 1464.7,2229.9 1480.4,2229.9 1496.1,2230.0 1511.8,2230.0 1527.5,2230.1 1543.3,2230.1 1559.0,2230.2 1574.7,2230.2 1590.4,2230.2 1606.1,2230.2 1621.9,2230.3 1637.6,2230.3 1653.3,2230.3 1669.0,2230.4 1684.7,2230.4 1700.5,2230.4 1716.2,2230.4 1731.9,2230.4 1747.6,2230.5 1763.3,2230.5 1779.1,2230.5 1794.8,2230.5 1810.5,2230.5 1826.2,2230.5 1841.9,2230.6 1857.7,2230.6 1873.4,2230.6 1889.1,2230.6 1889.1,2231.0" fill="#ff008c" stroke="#ff008c" stroke-width="7.4" stroke-linejoin="round"/>
<polyline points="317.1,1977.7 319.3,1977.5 321.6,1977.4 323.8,1977.2 326.1,1977.0 328.3,1976.8 330.6,1976.6 332.8,1976.4 335.1,1976.2 337.3,1976.0 339.6,1975.8 341.8,1975.6 344.1,1975.4 346.3,1975.2 348.6,1975.0 350.8,1974.8 353.1,1974.6 355.3,1974.4 357.6,1974.2 359.8,1974.0 362.1,1973.8 364.3,1973.6 366.6,1973.4 368.8,1973.2 371.1,1972.9 373.3,1972.7 375.6,1972.5 377.8,1972.3 380.1,1972.1 382.3,1971.8 384.6,1971.6 386.8,1971.4 389.1,1971.2 391.3,1970.9 393.6,1970.7 395.8,1970.5 398.1,1970.2 400.3,1970.0 402.6,1969.8 404.8,1969.5 407.1,1969.3 409.3,1969.0 411.6,1968.8 413.8,1968.6 416.1,1968.3 418.3,1968.1 420.6,1967.8 422.8,1967.6 425.0,1967.3 427.3,1967.1 429.5,1966.8 431.8,1966.6 434.0,1966.3 436.3,1966.1 438.5,1965.8 440.8,1965.5 443.0,1965.3 445.3,1965.0 447.5,1964.7 449.8,1964.5 452.0,1964.2 454.3,1963.9 456.5,1963.7 458.8,1963.4 461.0,1963.1 463.3,1962.9 465.5,1962.6 467.8,1962.3 470.0,1962.0 472.3,1961.7 474.5,1961.5 476.8,1961.2 479.0,1960.9 481.3,1960.6 483.5,1960.3 485.8,1960.0 488.0,1959.7 490.3,1959.4 492.5,1959.1 494.8,1958.8 497.0,1958.5 499.3,1958.2 501.5,1957.8 503.8,1957.5 506.0,1957.1 508.3,1956.8 510.5,1956.4 512.8,1956.0 515.0,1955.6 517.3,1955.2 519.5,1954.8 521.8,1954.3 524.0,1953.9 526.3,1953.4 528.5,1953.0 530.7,1952.5 533.0,1952.0 535.2,1951.4 537.5,1950.9 539.7,1950.3 542.0,1949.7 544.2,1949.1 546.5,1948.5 548.7,1947.9 551.0,1947.2 553.2,1946.5 555.5,1945.8 557.7,1945.1 560.0,1944.3 562.2,1943.6 564.5,1942.8 566.7,1941.9 569.0,1941.1 571.2,1940.2 573.5,1939.3 575.7,1938.3 578.0,1937.3 580.2,1936.2 582.5,1935.1 584.7,1933.9 587.0,1932.6 589.2,1931.3 591.5,1929.9 593.7,1928.4 596.0,1926.9 598.2,1925.2 600.5,1923.4 602.7,1921.6 605.0,1919.7 607.2,1917.8 609.5,1915.9 611.7,1914.0 614.0,1912.0 616.2,1910.1 618.5,1908.3 620.7,1906.5 623.0,1904.8 625.2,1903.2 627.5,1901.6 629.7,1900.3 631.9,1899.0 634.2,1897.9 636.4,1896.8 638.7,1895.8 640.9,1894.9 643.2,1894.1 645.4,1893.3 647.7,1892.5 649.9,1891.7 652.2,1890.9 654.4,1890.1 656.7,1889.3 658.9,1888.4 661.2,1887.5 663.4,1886.6 665.7,1885.7 667.9,1884.7 670.2,1883.7 672.4,1882.7 674.7,1881.6 676.9,1880.5 679.2,1879.3 681.4,1878.0 683.7,1876.7 685.9,1875.3 688.2,1873.9 690.4,1872.4 692.7,1870.8 694.9,1869.1 697.2,1867.3 699.4,1865.5 701.7,1863.6 703.9,1861.6 706.2,1859.4 708.4,1857.2 710.7,1854.9 712.9,1852.5 715.2,1850.0 717.4,1847.3 719.7,1844.5 721.9,1841.7 724.2,1838.7 726.4,1835.5 728.7,1832.3 730.9,1828.9 733.2,1825.4 735.4,1821.7 737.6,1817.9 739.9,1814.0 742.1,1809.9 744.4,1805.6 746.6,1801.2 748.9,1796.6 751.1,1791.9 753.4,1787.0 755.6,1781.9 757.9,1776.6 760.1,1771.1 762.4,1765.3 764.6,1759.2 766.9,1752.9 769.1,1746.2 771.4,1739.1 773.6,1731.7 775.9,1723.9 778.1,1715.7 780.4,1707.0 782.6,1697.9 784.9,1688.4 787.1,1678.6 789.4,1668.5 791.6,1658.0 793.9,1647.3 796.1,1636.4 798.4,1625.3 800.6,1614.1 802.9,1602.8 805.1,1591.6 807.4,1580.6 809.6,1569.9 811.9,1559.8 814.1,1550.2 816.4,1541.0 818.6,1532.4 820.9,1524.3 823.1,1516.6 825.4,1509.1 827.6,1501.7 829.9,1494.1 832.1,1486.1 834.4,1477.7 836.6,1468.8 838.9,1459.8 841.1,1450.7 843.3,1441.7 845.6,1432.8 847.8,1424.4 850.1,1416.4 852.3,1409.1 854.6,1402.5 856.8,1396.5 859.1,1391.1 861.3,1386.0 863.6,1381.2 865.8,1376.6 868.1,1371.8 870.3,1367.0 872.6,1361.8 874.8,1356.5 877.1,1350.9 879.3,1345.2 881.6,1339.4 883.8,1333.5 886.1,1327.5 888.3,1321.6 890.6,1315.6 892.8,1309.8 895.1,1304.0 897.3,1298.3 899.6,1292.7 901.8,1287.1 904.1,1281.7 906.3,1276.3 908.6,1271.1 910.8,1265.9 913.1,1260.8 915.3,1255.8 917.6,1250.9 919.8,1246.2 922.1,1241.5 924.3,1236.9 926.6,1232.5 928.8,1228.1 931.1,1223.9 933.3,1219.8 935.6,1215.8 937.8,1211.9 940.1,1208.2 942.3,1204.6 944.6,1201.2 946.8,1198.0 949.0,1194.9 951.3,1192.1 953.5,1189.4 955.8,1187.0 958.0,1184.8 960.3,1182.9 962.5,1181.2 964.8,1179.8 967.0,1178.6 969.3,1177.8 971.5,1177.2 973.8,1176.9 976.0,1177.0 978.3,1177.4 980.5,1178.1 982.8,1179.1 985.0,1180.4 987.3,1182.0 989.5,1183.8 991.8,1185.9 994.0,1188.2 996.3,1190.7 998.5,1193.3 1000.8,1196.2 1003.0,1199.1 1005.3,1202.2 1007.5,1205.5 1009.8,1208.8 1012.0,1212.2 1014.3,1215.7 1016.5,1219.2 1018.8,1222.8 1021.0,1226.4 1023.3,1230.1 1025.5,1233.8 1027.8,1237.4 1030.0,1241.1 1032.3,1244.8 1034.5,1248.4 1036.8,1251.9 1039.0,1255.4 1041.3,1258.9 1043.5,1262.2 1045.8,1265.5 1048.0,1268.6 1050.3,1271.7 1052.5,1274.5 1054.7,1277.3 1057.0,1279.9 1059.2,1282.3 1061.5,1284.6 1063.7,1286.6 1066.0,1288.5 1068.2,1290.2 1070.5,1291.6 1072.7,1292.8 1075.0,1293.8 1077.2,1294.5 1079.5,1295.0 1081.7,1295.2 1084.0,1295.2 1086.2,1294.8 1088.5,1294.2 1090.7,1293.4 1093.0,1292.3 1095.2,1291.0 1097.5,1289.5 1099.7,1287.8 1102.0,1285.9 1104.2,1283.8 1106.5,1281.6 1108.7,1279.2 1111.0,1276.7 1113.2,1274.1 1115.5,1271.4 1117.7,1268.6 1120.0,1265.8 1122.2,1262.8 1124.5,1259.8 1126.7,1256.8 1129.0,1253.8 1131.2,1250.7 1133.5,1247.7 1135.7,1244.6 1138.0,1241.6 1140.2,1238.7 1142.5,1235.7 1144.7,1232.9 1147.0,1230.1 1149.2,1227.3 1151.5,1224.7 1153.7,1222.2 1155.9,1219.7 1158.2,1217.4 1160.4,1215.3 1162.7,1213.2 1164.9,1211.3 1167.2,1209.6 1169.4,1208.0 1171.7,1206.6 1173.9,1205.4 1176.2,1204.4 1178.4,1203.5 1180.7,1202.7 1182.9,1202.2 1185.2,1201.7 1187.4,1201.5 1189.7,1201.4 1191.9,1201.5 1194.2,1201.7 1196.4,1202.0 1198.7,1202.6 1200.9,1203.2 1203.2,1204.1 1205.4,1205.0 1207.7,1206.2 1209.9,1207.4 1212.2,1208.8 1214.4,1210.4 1216.7,1212.1 1218.9,1213.9 1221.2,1215.9 1223.4,1218.0 1225.7,1220.2 1227.9,1222.6 1230.2,1225.1 1232.4,1227.7 1234.7,1230.5 1236.9,1233.4 1239.2,1236.4 1241.4,1239.6 1243.7,1242.9 1245.9,1246.3 1248.2,1249.8 1250.4,1253.4 1252.7,1257.2 1254.9,1261.0 1257.2,1265.0 1259.4,1269.0 1261.6,1273.2 1263.9,1277.5 1266.1,1281.8 1268.4,1286.2 1270.6,1290.8 1272.9,1295.4 1275.1,1300.1 1277.4,1305.0 1279.6,1309.9 1281.9,1315.0 1284.1,1320.2 1286.4,1325.5 1288.6,1330.9 1290.9,1336.4 1293.1,1341.9 1295.4,1347.5 1297.6,1353.2 1299.9,1358.9 1302.1,1364.5 1304.4,1370.2 1306.6,1375.9 1308.9,1381.5 1311.1,1387.2 1313.4,1392.7 1315.6,1398.3 1317.9,1403.7 1320.1,1409.1 1322.4,1414.5 1324.6,1419.7 1326.9,1424.9 1329.1,1430.0 1331.4,1434.9 1333.6,1439.8 1335.9,1444.5 1338.1,1449.1 1340.4,1453.5 1342.6,1457.8 1344.9,1461.9 1347.1,1465.8 1349.4,1469.6 1351.6,1473.2 1353.9,1476.7 1356.1,1480.0 1358.4,1483.2 1360.6,1486.4 1362.9,1489.4 1365.1,1492.3 1367.3,1495.1 1369.6,1497.8 1371.8,1500.4 1374.1,1503.0 1376.3,1505.5 1378.6,1507.9 1380.8,1510.2 1383.1,1512.5 1385.3,1514.7 1387.6,1516.8 1389.8,1518.9 1392.1,1520.9 1394.3,1522.8 1396.6,1524.8 1398.8,1526.6 1401.1,1528.4 1403.3,1530.2 1405.6,1531.9 1407.8,1533.6 1410.1,1535.3 1412.3,1536.9 1414.6,1538.5 1416.8,1540.1 1419.1,1541.6 1421.3,1543.2 1423.6,1544.7 1425.8,1546.1 1428.1,1547.6 1430.3,1549.0 1432.6,1550.4 1434.8,1551.8 1437.1,1553.2 1439.3,1554.5 1441.6,1555.8 1443.8,1557.1 1446.1,1558.4 1448.3,1559.6 1450.6,1560.8 1452.8,1561.9 1455.1,1563.1 1457.3,1564.2 1459.6,1565.2 1461.8,1566.3 1464.1,1567.3 1466.3,1568.2 1468.6,1569.2 1470.8,1570.1 1473.0,1571.0 1475.3,1571.8 1477.5,1572.7 1479.8,1573.5 1482.0,1574.3 1484.3,1575.1 1486.5,1575.8 1488.8,1576.5 1491.0,1577.2 1493.3,1577.9 1495.5,1578.6 1497.8,1579.2 1500.0,1579.8 1502.3,1580.5 1504.5,1581.1 1506.8,1581.6 1509.0,1582.2 1511.3,1582.8 1513.5,1583.3 1515.8,1583.8 1518.0,1584.4 1520.3,1584.9 1522.5,1585.4 1524.8,1585.9 1527.0,1586.4 1529.3,1586.8 1531.5,1587.3 1533.8,1587.8 1536.0,1588.3 1538.3,1588.7 1540.5,1589.2 1542.8,1589.6 1545.0,1590.1 1547.3,1590.5 1549.5,1590.9 1551.8,1591.3 1554.0,1591.7 1556.3,1592.1 1558.5,1592.5 1560.8,1592.8 1563.0,1593.2 1565.3,1593.5 1567.5,1593.8 1569.8,1594.2 1572.0,1594.4 1574.3,1594.7 1576.5,1595.0 1578.7,1595.2 1581.0,1595.4 1583.2,1595.6 1585.5,1595.8 1587.7,1596.0 1590.0,1596.1 1592.2,1596.2 1594.5,1596.3 1596.7,1596.4 1599.0,1596.4 1601.2,1596.5 1603.5,1596.5 1605.7,1596.5 1608.0,1596.5 1610.2,1596.5 1612.5,1596.4 1614.7,1596.3 1617.0,1596.3 1619.2,1596.2 1621.5,1596.1 1623.7,1596.0 1626.0,1595.9 1628.2,1595.7 1630.5,1595.6 1632.7,1595.4 1635.0,1595.3 1637.2,1595.1 1639.5,1594.9 1641.7,1594.8 1644.0,1594.6 1646.2,1594.4 1648.5,1594.2 1650.7,1594.0 1653.0,1593.8 1655.2,1593.6 1657.5,1593.4 1659.7,1593.2 1662.0,1593.0 1664.2,1592.7 1666.5,1592.5 1668.7,1592.3 1671.0,1592.0 1673.2,1591.8 1675.5,1591.5 1677.7,1591.3 1679.9,1591.0 1682.2,1590.8 1684.4,1590.5 1686.7,1590.3 1688.9,1590.0 1691.2,1589.7 1693.4,1589.5 1695.7,1589.2 1697.9,1588.9 1700.2,1588.6 1702.4,1588.3 1704.7,1588.1 1706.9,1587.8 1709.2,1587.5 1711.4,1587.2 1713.7,1586.9 1715.9,1586.6 1718.2,1586.3 1720.4,1586.0 1722.7,1585.7 1724.9,1585.4 1727.2,1585.1 1729.4,1584.8 1731.7,1584.5 1733.9,1584.2 1736.2,1583.9 1738.4,1583.5 1740.7,1583.2 1742.9,1582.9 1745.2,1582.6 1747.4,1582.3 1749.7,1582.0 1751.9,1581.7 1754.2,1581.3 1756.4,1581.0 1758.7,1580.7 1760.9,1580.4 1763.2,1580.1 1765.4,1579.8 1767.7,1579.5 1769.9,1579.1 1772.2,1578.8 1774.4,1578.5 1776.7,1578.2 1778.9,1577.9 1781.2,1577.6 1783.4,1577.3 1785.6,1577.0 1787.9,1576.7 1790.1,1576.4 1792.4,1576.0 1794.6,1575.7 1796.9,1575.4 1799.1,1575.1 1801.4,1574.8 1803.6,1574.5 1805.9,1574.2 1808.1,1573.9 1810.4,1573.6 1812.6,1573.3 1814.9,1573.0 1817.1,1572.7 1819.4,1572.4 1821.6,1572.0 1823.9,1571.7 1826.1,1571.4 1828.4,1571.0 1830.6,1570.7 1832.9,1570.3 1835.1,1570.0 1837.4,1569.6 1839.6,1569.2 1841.9,1568.9 1844.1,1568.5 1846.4,1568.1 1848.6,1567.7 1850.9,1567.2 1853.1,1566.8 1855.4,1566.4 1857.6,1565.9 1859.9,1565.5 1862.1,1565.0 1864.4,1564.5 1866.6,1564.0 1868.9,1563.5 1871.1,1563.0 1873.4,1562.5 1875.6,1561.9 1877.9,1561.4 1880.1,1560.8 1882.4,1560.2 1884.6,1559.6 1886.9,1558.9 1889.1,1558.3" fill="none" stroke="#ff8000" stroke-width="7.3" stroke-linejoin="round"/>
<polyline points="317.1,1980.4 332.8,1978.4 348.5,1976.5 364.3,1974.7 380.0,1973.0 395.7,1971.5 411.4,1970.0 427.1,1968.2 442.9,1966.2 458.6,1964.0 474.3,1961.6 490.0,1959.1 505.7,1956.4 521.5,1953.3 537.2,1949.5 552.9,1944.7 568.6,1938.5 584.3,1930.1 600.1,1919.5 615.8,1905.1 631.5,1892.5 647.2,1884.1 662.9,1876.1 678.7,1867.4 694.4,1854.8 710.1,1838.7 725.8,1817.2 741.5,1790.3 757.3,1758.9 773.0,1717.3 788.7,1667.6 804.4,1607.8 820.1,1537.9 835.9,1476.6 851.6,1422.3 867.3,1383.3 883.0,1351.9 898.7,1327.8 914.5,1306.3 930.2,1275.4 945.9,1251.4 961.6,1237.6 977.3,1222.2 993.1,1222.7 1008.8,1239.2 1024.5,1256.9 1040.2,1282.3 1055.9,1302.1 1071.7,1316.4 1087.4,1323.3 1103.1,1332.5 1118.8,1313.8 1134.5,1295.2 1150.3,1280.0 1166.0,1272.2 1181.7,1261.9 1197.4,1258.0 1213.1,1267.1 1228.9,1278.8 1244.6,1294.9 1260.3,1312.0 1276.0,1334.8 1291.7,1364.7 1307.5,1399.3 1323.2,1430.2 1338.9,1457.7 1354.6,1483.1 1370.3,1502.9 1386.1,1516.2 1401.8,1529.3 1417.5,1541.1 1433.2,1550.8 1448.9,1558.6 1464.7,1562.2 1480.4,1566.1 1496.1,1571.4 1511.8,1574.0 1527.5,1576.7 1543.3,1580.3 1559.0,1588.9 1574.7,1591.4 1590.4,1591.6 1606.1,1591.6 1621.9,1591.6 1637.6,1591.2 1653.3,1589.6 1669.0,1583.6 1684.7,1583.6 1700.5,1581.1 1716.2,1578.2 1731.9,1575.6 1747.6,1573.0 1763.3,1571.9 1779.1,1571.6 1794.8,1570.8 1810.5,1567.6 1826.2,1563.7 1841.9,1564.1 1857.7,1557.0 1873.4,1554.6 1889.1,1550.6" fill="none" stroke="#0000ff" stroke-width="7.6" stroke-linejoin="round"/>
<polyline points="317.1,2205.0 332.8,2203.8 348.5,2202.3 364.3,2200.4 380.0,2198.4 395.7,2196.3 411.4,2194.2 427.1,2192.3 442.9,2190.4 458.6,2188.5 474.3,2186.3 490.0,2183.8 505.7,2180.8 521.5,2177.2 537.2,2173.0 552.9,2168.2 568.6,2162.9 584.3,2156.9 600.1,2150.3 615.8,2142.9 631.5,2134.6 647.2,2125.1 662.9,2114.0 678.7,2101.0 694.4,2085.3 710.1,2066.6 725.8,2045.0 741.5,2019.8 757.3,1986.8 773.0,1942.3 788.7,1889.8 804.4,1834.6 820.1,1779.8 835.9,1727.5 851.6,1677.7 867.3,1630.0 883.0,1587.2 898.7,1549.2 914.5,1509.4 930.2,1463.0 945.9,1418.9 961.6,1393.3 977.3,1393.8 993.1,1424.3 1008.8,1457.3 1024.5,1487.6 1040.2,1511.8 1055.9,1529.5 1071.7,1540.3 1087.4,1543.2 1103.1,1537.1 1118.8,1521.8 1134.5,1501.4 1150.3,1481.2 1166.0,1463.4 1181.7,1451.2 1197.4,1449.5 1213.1,1460.9 1228.9,1484.6 1244.6,1516.3 1260.3,1550.0 1276.0,1581.0 1291.7,1608.5 1307.5,1632.9 1323.2,1653.1 1338.9,1668.6 1354.6,1681.2 1370.3,1693.1 1386.1,1703.7 1401.8,1712.6 1417.5,1720.0 1433.2,1726.1 1448.9,1731.4 1464.7,1735.8 1480.4,1739.6 1496.1,1742.8 1511.8,1745.6 1527.5,1748.1 1543.3,1750.2 1559.0,1752.1 1574.7,1753.7 1590.4,1755.3 1606.1,1756.6 1621.9,1757.9 1637.6,1759.0 1653.3,1760.2 1669.0,1761.2 1684.7,1762.2 1700.5,1763.0 1716.2,1763.8 1731.9,1764.6 1747.6,1765.3 1763.3,1765.9 1779.1,1766.6 1794.8,1767.1 1810.5,1767.7 1826.2,1768.2 1841.9,1768.6 1857.7,1769.1 1873.4,1769.5 1889.1,1769.9" fill="none" stroke="#000" stroke-width="7.1" stroke-linejoin="round"/>
<polyline points="317.1,2219.0 319.3,2218.8 321.6,2218.7 323.8,2218.5 326.1,2218.3 328.3,2218.1 330.6,2217.9 332.8,2217.7 335.1,2217.5 337.3,2217.3 339.6,2217.1 341.8,2216.9 344.1,2216.7 346.3,2216.5 348.6,2216.3 350.8,2216.1 353.1,2215.9 355.3,2215.7 357.6,2215.5 359.8,2215.3 362.1,2215.1 364.3,2214.9 366.6,2214.7 368.8,2214.5 371.1,2214.2 373.3,2214.0 375.6,2213.8 377.8,2213.6 380.1,2213.4 382.3,2213.1 384.6,2212.9 386.8,2212.7 389.1,2212.5 391.3,2212.2 393.6,2212.0 395.8,2211.8 398.1,2211.5 400.3,2211.3 402.6,2211.1 404.8,2210.8 407.1,2210.6 409.3,2210.3 411.6,2210.1 413.8,2209.9 416.1,2209.6 418.3,2209.4 420.6,2209.1 422.8,2208.9 425.0,2208.6 427.3,2208.4 429.5,2208.1 431.8,2207.9 434.0,2207.6 436.3,2207.3 438.5,2207.1 440.8,2206.8 443.0,2206.6 445.3,2206.3 447.5,2206.0 449.8,2205.8 452.0,2205.5 454.3,2205.2 456.5,2205.0 458.8,2204.7 461.0,2204.4 463.3,2204.2 465.5,2203.9 467.8,2203.6 470.0,2203.3 472.3,2203.0 474.5,2202.8 476.8,2202.5 479.0,2202.2 481.3,2201.9 483.5,2201.6 485.8,2201.3 488.0,2201.0 490.3,2200.7 492.5,2200.4 494.8,2200.1 497.0,2199.8 499.3,2199.5 501.5,2199.1 503.8,2198.8 506.0,2198.4 508.3,2198.1 510.5,2197.7 512.8,2197.3 515.0,2196.9 517.3,2196.5 519.5,2196.1 521.8,2195.6 524.0,2195.2 526.3,2194.7 528.5,2194.3 530.7,2193.8 533.0,2193.3 535.2,2192.7 537.5,2192.2 539.7,2191.6 542.0,2191.0 544.2,2190.4 546.5,2189.8 548.7,2189.2 551.0,2188.5 553.2,2187.8 555.5,2187.1 557.7,2186.4 560.0,2185.6 562.2,2184.9 564.5,2184.1 566.7,2183.2 569.0,2182.4 571.2,2181.5 573.5,2180.6 575.7,2179.6 578.0,2178.6 580.2,2177.5 582.5,2176.4 584.7,2175.2 587.0,2173.9 589.2,2172.6 591.5,2171.2 593.7,2169.7 596.0,2168.2 598.2,2166.5 600.5,2164.7 602.7,2162.9 605.0,2161.0 607.2,2159.1 609.5,2157.2 611.7,2155.3 614.0,2153.3 616.2,2151.4 618.5,2149.6 620.7,2147.8 623.0,2146.1 625.2,2144.5 627.5,2142.9 629.7,2141.6 631.9,2140.3 634.2,2139.1 636.4,2138.1 638.7,2137.1 640.9,2136.2 643.2,2135.4 645.4,2134.6 647.7,2133.8 649.9,2133.0 652.2,2132.2 654.4,2131.4 656.7,2130.6 658.9,2129.7 661.2,2128.8 663.4,2127.9 665.7,2127.0 667.9,2126.0 670.2,2125.0 672.4,2124.0 674.7,2122.9 676.9,2121.8 679.2,2120.6 681.4,2119.3 683.7,2118.0 685.9,2116.6 688.2,2115.2 690.4,2113.7 692.7,2112.1 694.9,2110.4 697.2,2108.6 699.4,2106.8 701.7,2104.9 703.9,2102.9 706.2,2100.7 708.4,2098.5 710.7,2096.2 712.9,2093.8 715.2,2091.2 717.4,2088.6 719.7,2085.8 721.9,2083.0 724.2,2080.0 726.4,2076.8 728.7,2073.6 730.9,2070.2 733.2,2066.7 735.4,2063.0 737.6,2059.2 739.9,2055.3 742.1,2051.2 744.4,2046.9 746.6,2042.5 748.9,2037.9 751.1,2033.2 753.4,2028.3 755.6,2023.2 757.9,2017.9 760.1,2012.4 762.4,2006.6 764.6,2000.5 766.9,1994.2 769.1,1987.5 771.4,1980.4 773.6,1973.0 775.9,1965.2 778.1,1957.0 780.4,1948.3 782.6,1939.2 784.9,1929.7 787.1,1919.9 789.4,1909.8 791.6,1899.3 793.9,1888.6 796.1,1877.7 798.4,1866.6 800.6,1855.4 802.9,1844.1 805.1,1832.9 807.4,1821.9 809.6,1811.2 811.9,1801.1 814.1,1791.4 816.4,1782.3 818.6,1773.7 820.9,1765.6 823.1,1757.9 825.4,1750.4 827.6,1743.0 829.9,1735.4 832.1,1727.4 834.4,1719.0 836.6,1710.1 838.9,1701.1 841.1,1692.0 843.3,1683.0 845.6,1674.1 847.8,1665.7 850.1,1657.7 852.3,1650.4 854.6,1643.8 856.8,1637.8 859.1,1632.4 861.3,1627.3 863.6,1622.5 865.8,1617.9 868.1,1613.1 870.3,1608.3 872.6,1603.1 874.8,1597.8 877.1,1592.2 879.3,1586.5 881.6,1580.7 883.8,1574.8 886.1,1568.8 888.3,1562.9 890.6,1556.9 892.8,1551.1 895.1,1545.3 897.3,1539.6 899.6,1534.0 901.8,1528.4 904.1,1523.0 906.3,1517.6 908.6,1512.4 910.8,1507.2 913.1,1502.1 915.3,1497.1 917.6,1492.2 919.8,1487.5 922.1,1482.8 924.3,1478.2 926.6,1473.8 928.8,1469.4 931.1,1465.2 933.3,1461.0 935.6,1457.0 937.8,1453.2 940.1,1449.5 942.3,1445.9 944.6,1442.5 946.8,1439.2 949.0,1436.2 951.3,1433.4 953.5,1430.7 955.8,1428.3 958.0,1426.1 960.3,1424.2 962.5,1422.5 964.8,1421.1 967.0,1419.9 969.3,1419.1 971.5,1418.5 973.8,1418.2 976.0,1418.3 978.3,1418.7 980.5,1419.4 982.8,1420.4 985.0,1421.7 987.3,1423.3 989.5,1425.1 991.8,1427.2 994.0,1429.5 996.3,1432.0 998.5,1434.6 1000.8,1437.5 1003.0,1440.4 1005.3,1443.5 1007.5,1446.8 1009.8,1450.1 1012.0,1453.5 1014.3,1457.0 1016.5,1460.5 1018.8,1464.1 1021.0,1467.7 1023.3,1471.4 1025.5,1475.1 1027.8,1478.7 1030.0,1482.4 1032.3,1486.1 1034.5,1489.7 1036.8,1493.2 1039.0,1496.7 1041.3,1500.2 1043.5,1503.5 1045.8,1506.8 1048.0,1509.9 1050.3,1512.9 1052.5,1515.8 1054.7,1518.6 1057.0,1521.2 1059.2,1523.6 1061.5,1525.9 1063.7,1527.9 1066.0,1529.8 1068.2,1531.5 1070.5,1532.9 1072.7,1534.1 1075.0,1535.1 1077.2,1535.8 1079.5,1536.3 1081.7,1536.5 1084.0,1536.5 1086.2,1536.1 1088.5,1535.5 1090.7,1534.7 1093.0,1533.6 1095.2,1532.3 1097.5,1530.8 1099.7,1529.1 1102.0,1527.2 1104.2,1525.1 1106.5,1522.9 1108.7,1520.5 1111.0,1518.0 1113.2,1515.4 1115.5,1512.7 1117.7,1509.9 1120.0,1507.0 1122.2,1504.1 1124.5,1501.1 1126.7,1498.1 1129.0,1495.1 1131.2,1492.0 1133.5,1489.0 1135.7,1485.9 1138.0,1482.9 1140.2,1480.0 1142.5,1477.0 1144.7,1474.2 1147.0,1471.4 1149.2,1468.6 1151.5,1466.0 1153.7,1463.5 1155.9,1461.0 1158.2,1458.7 1160.4,1456.6 1162.7,1454.5 1164.9,1452.6 1167.2,1450.9 1169.4,1449.3 1171.7,1447.9 1173.9,1446.7 1176.2,1445.7 1178.4,1444.8 1180.7,1444.0 1182.9,1443.5 1185.2,1443.0 1187.4,1442.8 1189.7,1442.7 1191.9,1442.8 1194.2,1443.0 1196.4,1443.3 1198.7,1443.9 1200.9,1444.5 1203.2,1445.4 1205.4,1446.3 1207.7,1447.5 1209.9,1448.7 1212.2,1450.1 1214.4,1451.7 1216.7,1453.4 1218.9,1455.2 1221.2,1457.2 1223.4,1459.3 1225.7,1461.5 1227.9,1463.9 1230.2,1466.4 1232.4,1469.0 1234.7,1471.8 1236.9,1474.7 1239.2,1477.7 1241.4,1480.9 1243.7,1484.2 1245.9,1487.6 1248.2,1491.1 1250.4,1494.7 1252.7,1498.5 1254.9,1502.3 1257.2,1506.3 1259.4,1510.3 1261.6,1514.5 1263.9,1518.8 1266.1,1523.1 1268.4,1527.5 1270.6,1532.1 1272.9,1536.7 1275.1,1541.4 1277.4,1546.3 1279.6,1551.2 1281.9,1556.3 1284.1,1561.5 1286.4,1566.8 1288.6,1572.2 1290.9,1577.7 1293.1,1583.2 1295.4,1588.8 1297.6,1594.5 1299.9,1600.2 1302.1,1605.8 1304.4,1611.5 1306.6,1617.2 1308.9,1622.8 1311.1,1628.5 1313.4,1634.0 1315.6,1639.6 1317.9,1645.0 1320.1,1650.4 1322.4,1655.8 1324.6,1661.0 1326.9,1666.2 1329.1,1671.3 1331.4,1676.2 1333.6,1681.1 1335.9,1685.8 1338.1,1690.4 1340.4,1694.8 1342.6,1699.1 1344.9,1703.2 1347.1,1707.1 1349.4,1710.8 1351.6,1714.5 1353.9,1718.0 1356.1,1721.3 1358.4,1724.5 1360.6,1727.6 1362.9,1730.7 1365.1,1733.6 1367.3,1736.4 1369.6,1739.1 1371.8,1741.7 1374.1,1744.3 1376.3,1746.8 1378.6,1749.2 1380.8,1751.5 1383.1,1753.8 1385.3,1756.0 1387.6,1758.1 1389.8,1760.2 1392.1,1762.2 1394.3,1764.1 1396.6,1766.1 1398.8,1767.9 1401.1,1769.7 1403.3,1771.5 1405.6,1773.2 1407.8,1774.9 1410.1,1776.6 1412.3,1778.2 1414.6,1779.8 1416.8,1781.4 1419.1,1782.9 1421.3,1784.4 1423.6,1786.0 1425.8,1787.4 1428.1,1788.9 1430.3,1790.3 1432.6,1791.7 1434.8,1793.1 1437.1,1794.5 1439.3,1795.8 1441.6,1797.1 1443.8,1798.4 1446.1,1799.6 1448.3,1800.9 1450.6,1802.1 1452.8,1803.2 1455.1,1804.4 1457.3,1805.4 1459.6,1806.5 1461.8,1807.5 1464.1,1808.6 1466.3,1809.5 1468.6,1810.5 1470.8,1811.4 1473.0,1812.3 1475.3,1813.1 1477.5,1814.0 1479.8,1814.8 1482.0,1815.6 1484.3,1816.3 1486.5,1817.1 1488.8,1817.8 1491.0,1818.5 1493.3,1819.2 1495.5,1819.9 1497.8,1820.5 1500.0,1821.1 1502.3,1821.8 1504.5,1822.3 1506.8,1822.9 1509.0,1823.5 1511.3,1824.1 1513.5,1824.6 1515.8,1825.1 1518.0,1825.7 1520.3,1826.2 1522.5,1826.7 1524.8,1827.2 1527.0,1827.7 1529.3,1828.1 1531.5,1828.6 1533.8,1829.1 1536.0,1829.6 1538.3,1830.0 1540.5,1830.5 1542.8,1830.9 1545.0,1831.4 1547.3,1831.8 1549.5,1832.2 1551.8,1832.6 1554.0,1833.0 1556.3,1833.4 1558.5,1833.8 1560.8,1834.1 1563.0,1834.5 1565.3,1834.8 1567.5,1835.1 1569.8,1835.4 1572.0,1835.7 1574.3,1836.0 1576.5,1836.3 1578.7,1836.5 1581.0,1836.7 1583.2,1836.9 1585.5,1837.1 1587.7,1837.3 1590.0,1837.4 1592.2,1837.5 1594.5,1837.6 1596.7,1837.7 1599.0,1837.7 1601.2,1837.8 1603.5,1837.8 1605.7,1837.8 1608.0,1837.8 1610.2,1837.8 1612.5,1837.7 1614.7,1837.6 1617.0,1837.6 1619.2,1837.5 1621.5,1837.4 1623.7,1837.3 1626.0,1837.1 1628.2,1837.0 1630.5,1836.9 1632.7,1836.7 1635.0,1836.6 1637.2,1836.4 1639.5,1836.2 1641.7,1836.1 1644.0,1835.9 1646.2,1835.7 1648.5,1835.5 1650.7,1835.3 1653.0,1835.1 1655.2,1834.9 1657.5,1834.7 1659.7,1834.5 1662.0,1834.3 1664.2,1834.0 1666.5,1833.8 1668.7,1833.6 1671.0,1833.3 1673.2,1833.1 1675.5,1832.8 1677.7,1832.6 1679.9,1832.3 1682.2,1832.1 1684.4,1831.8 1686.7,1831.6 1688.9,1831.3 1691.2,1831.0 1693.4,1830.8 1695.7,1830.5 1697.9,1830.2 1700.2,1829.9 1702.4,1829.6 1704.7,1829.4 1706.9,1829.1 1709.2,1828.8 1711.4,1828.5 1713.7,1828.2 1715.9,1827.9 1718.2,1827.6 1720.4,1827.3 1722.7,1827.0 1724.9,1826.7 1727.2,1826.4 1729.4,1826.1 1731.7,1825.8 1733.9,1825.5 1736.2,1825.1 1738.4,1824.8 1740.7,1824.5 1742.9,1824.2 1745.2,1823.9 1747.4,1823.6 1749.7,1823.3 1751.9,1823.0 1754.2,1822.6 1756.4,1822.3 1758.7,1822.0 1760.9,1821.7 1763.2,1821.4 1765.4,1821.1 1767.7,1820.7 1769.9,1820.4 1772.2,1820.1 1774.4,1819.8 1776.7,1819.5 1778.9,1819.2 1781.2,1818.9 1783.4,1818.6 1785.6,1818.3 1787.9,1818.0 1790.1,1817.6 1792.4,1817.3 1794.6,1817.0 1796.9,1816.7 1799.1,1816.4 1801.4,1816.1 1803.6,1815.8 1805.9,1815.5 1808.1,1815.2 1810.4,1814.9 1812.6,1814.6 1814.9,1814.3 1817.1,1814.0 1819.4,1813.7 1821.6,1813.3 1823.9,1813.0 1826.1,1812.7 1828.4,1812.3 1830.6,1812.0 1832.9,1811.6 1835.1,1811.3 1837.4,1810.9 1839.6,1810.5 1841.9,1810.2 1844.1,1809.8 1846.4,1809.4 1848.6,1809.0 1850.9,1808.5 1853.1,1808.1 1855.4,1807.7 1857.6,1807.2 1859.9,1806.8 1862.1,1806.3 1864.4,1805.8 1866.6,1805.3 1868.9,1804.8 1871.1,1804.3 1873.4,1803.8 1875.6,1803.2 1877.9,1802.6 1880.1,1802.1 1882.4,1801.5 1884.6,1800.9 1886.9,1800.2 1889.1,1799.6" fill="none" stroke="#ff8000" stroke-width="7.3" stroke-linejoin="round"/>
</g>
<g stroke="#000" stroke-width="5.8" fill="none"><line x1="1859.0" y1="2231.0" x2="1889.1" y2="2231.0"/><line x1="1874.1" y1="2116.8" x2="1889.1" y2="2116.8"/><line x1="1859.0" y1="2002.5" x2="1889.1" y2="2002.5"/><line x1="1874.1" y1="1888.2" x2="1889.1" y2="1888.2"/><line x1="1859.0" y1="1774.0" x2="1889.1" y2="1774.0"/><line x1="1874.1" y1="1659.8" x2="1889.1" y2="1659.8"/><line x1="1859.0" y1="1545.5" x2="1889.1" y2="1545.5"/><line x1="1874.1" y1="1431.2" x2="1889.1" y2="1431.2"/><line x1="1859.0" y1="1317.0" x2="1889.1" y2="1317.0"/><line x1="1874.1" y1="1202.8" x2="1889.1" y2="1202.8"/></g>
<g stroke="#000" stroke-width="5.8" fill="none"><line x1="317.1" y1="34.9" x2="317.1" y2="64.4"/><line x1="317.1" y1="1132.9" x2="317.1" y2="1161.4"/><line x1="317.1" y1="2231.0" x2="317.1" y2="2258.7"/><line x1="474.3" y1="34.9" x2="474.3" y2="49.4"/><line x1="474.3" y1="1132.9" x2="474.3" y2="1146.4"/><line x1="474.3" y1="2231.0" x2="474.3" y2="2245.0"/><line x1="631.5" y1="34.9" x2="631.5" y2="64.4"/><line x1="631.5" y1="1132.9" x2="631.5" y2="1161.4"/><line x1="631.5" y1="2231.0" x2="631.5" y2="2258.7"/><line x1="788.7" y1="34.9" x2="788.7" y2="49.4"/><line x1="788.7" y1="1132.9" x2="788.7" y2="1146.4"/><line x1="788.7" y1="2231.0" x2="788.7" y2="2245.0"/><line x1="945.9" y1="34.9" x2="945.9" y2="64.4"/><line x1="945.9" y1="1132.9" x2="945.9" y2="1161.4"/><line x1="945.9" y1="2231.0" x2="945.9" y2="2258.7"/><line x1="1103.1" y1="34.9" x2="1103.1" y2="49.4"/><line x1="1103.1" y1="1132.9" x2="1103.1" y2="1146.4"/><line x1="1103.1" y1="2231.0" x2="1103.1" y2="2245.0"/><line x1="1260.3" y1="34.9" x2="1260.3" y2="64.4"/><line x1="1260.3" y1="1132.9" x2="1260.3" y2="1161.4"/><line x1="1260.3" y1="2231.0" x2="1260.3" y2="2258.7"/><line x1="1417.5" y1="34.9" x2="1417.5" y2="49.4"/><line x1="1417.5" y1="1132.9" x2="1417.5" y2="1146.4"/><line x1="1417.5" y1="2231.0" x2="1417.5" y2="2245.0"/><line x1="1574.7" y1="34.9" x2="1574.7" y2="64.4"/><line x1="1574.7" y1="1132.9" x2="1574.7" y2="1161.4"/><line x1="1574.7" y1="2231.0" x2="1574.7" y2="2258.7"/><line x1="1731.9" y1="34.9" x2="1731.9" y2="49.4"/><line x1="1731.9" y1="1132.9" x2="1731.9" y2="1146.4"/><line x1="1731.9" y1="2231.0" x2="1731.9" y2="2245.0"/><line x1="1889.1" y1="34.9" x2="1889.1" y2="64.4"/><line x1="1889.1" y1="1132.9" x2="1889.1" y2="1161.4"/><line x1="1889.1" y1="2231.0" x2="1889.1" y2="2258.7"/><line x1="287.0" y1="1132.9" x2="317.1" y2="1132.9"/><line x1="302.1" y1="1033.1" x2="317.1" y2="1033.1"/><line x1="287.0" y1="933.3" x2="317.1" y2="933.3"/><line x1="302.1" y1="833.5" x2="317.1" y2="833.5"/><line x1="287.0" y1="733.7" x2="317.1" y2="733.7"/><line x1="302.1" y1="634.0" x2="317.1" y2="634.0"/><line x1="287.0" y1="534.2" x2="317.1" y2="534.2"/><line x1="302.1" y1="434.4" x2="317.1" y2="434.4"/><line x1="287.0" y1="334.6" x2="317.1" y2="334.6"/><line x1="302.1" y1="234.8" x2="317.1" y2="234.8"/><line x1="287.0" y1="135.0" x2="317.1" y2="135.0"/><line x1="287.0" y1="2231.0" x2="317.1" y2="2231.0"/><line x1="302.1" y1="2116.8" x2="317.1" y2="2116.8"/><line x1="287.0" y1="2002.5" x2="317.1" y2="2002.5"/><line x1="302.1" y1="1888.2" x2="317.1" y2="1888.2"/><line x1="287.0" y1="1774.0" x2="317.1" y2="1774.0"/><line x1="302.1" y1="1659.8" x2="317.1" y2="1659.8"/><line x1="287.0" y1="1545.5" x2="317.1" y2="1545.5"/><line x1="302.1" y1="1431.2" x2="317.1" y2="1431.2"/><line x1="287.0" y1="1317.0" x2="317.1" y2="1317.0"/><line x1="302.1" y1="1202.8" x2="317.1" y2="1202.8"/>
<line x1="317.1" y1="32.0" x2="317.1" y2="2258.7"/>
<line x1="1889.1" y1="32.0" x2="1889.1" y2="2258.7"/>
<line x1="302.1" y1="34.9" x2="1892.0" y2="34.9"/>
<line x1="287.0" y1="1132.9" x2="1892.0" y2="1132.9"/>
<line x1="287.0" y1="2231.0" x2="1892.0" y2="2231.0"/>
</g>
<rect x="1886.2" y="737.9" width="3.9" height="392.1" fill="#06263a"/>
<g font-size="72">
<text x="266" y="1154.7" text-anchor="end">0.0</text>
<text x="266" y="955.1" text-anchor="end">0.5</text>
<text x="266" y="755.5" text-anchor="end">1.0</text>
<text x="266" y="556.0" text-anchor="end">1.5</text>
<text x="266" y="356.4" text-anchor="end">2.0</text>
<text x="266" y="156.8" text-anchor="end">2.5</text>
<text x="266" y="2252.8" text-anchor="end">0.0</text>
<text x="266" y="2024.3" text-anchor="end">0.5</text>
<text x="266" y="1795.8" text-anchor="end">1.0</text>
<text x="266" y="1567.3" text-anchor="end">1.5</text>
<text x="266" y="1338.8" text-anchor="end">2.0</text>
<text x="315.6" y="2336" text-anchor="middle">5710</text>
<text x="630.0" y="2336" text-anchor="middle">5720</text>
<text x="944.4" y="2336" text-anchor="middle">5730</text>
<text x="1258.8" y="2336" text-anchor="middle">5740</text>
<text x="1573.2" y="2336" text-anchor="middle">5750</text>
<text x="1887.6" y="2336" text-anchor="middle">5760</text>
<text x="793.5" y="2460">Photon energy / eV</text>
<text transform="translate(84,1305.3) rotate(-90)">Norm. intensity</text>
</g>
<text transform="translate(333.3,119.3) scale(1.06,1)" font-size="70">a)</text>
<text transform="translate(342.2,1217.8) scale(1.06,1)" font-size="70">b)</text>
<text x="452.5" y="193.8" font-size="78.5">Ce L<tspan font-size="53.4" dy="23.8">III</tspan></text>
<text x="1621.3" y="136.4" font-size="79">Ce(III)</text>
<text x="1621.9" y="1245.8" font-size="79">Ce(IV)</text>
</svg>
</body></html>
